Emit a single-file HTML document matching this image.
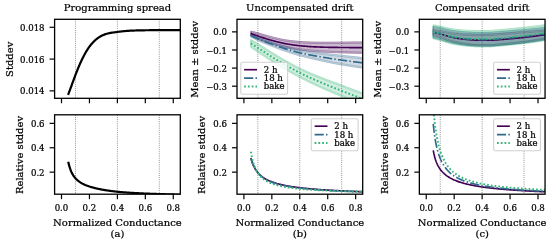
<!DOCTYPE html>
<html><head><meta charset="utf-8"><title>Figure</title>
<style>html,body{margin:0;padding:0;background:#fff;}svg{display:block;}text{stroke:#000;stroke-width:0.24px;stroke-linejoin:round;}</style></head>
<body>
<svg width="550" height="243" viewBox="0 0 550 243" font-family="'DejaVu Serif', 'Liberation Serif', serif" fill="#000">
<rect width="550" height="243" fill="#fff"/>
<defs>
<clipPath id="c00"><rect x="54.6" y="19.3" width="125.7" height="79.0"/></clipPath>
<clipPath id="c01"><rect x="54.6" y="114.8" width="125.7" height="79.39999999999999"/></clipPath>
<clipPath id="c10"><rect x="237.0" y="19.3" width="125.7" height="79.0"/></clipPath>
<clipPath id="c11"><rect x="237.0" y="114.8" width="125.7" height="79.39999999999999"/></clipPath>
<clipPath id="c20"><rect x="419.35" y="19.3" width="125.7" height="79.0"/></clipPath>
<clipPath id="c21"><rect x="419.35" y="114.8" width="125.7" height="79.39999999999999"/></clipPath>
</defs>
<text x="117.45" y="10.7" font-size="10.0" text-anchor="middle">Programming spread</text>
<text x="117.45" y="226.1" font-size="10.0" text-anchor="middle">Normalized Conductance</text>
<text x="117.45" y="236.7" font-size="10.0" text-anchor="middle">(a)</text>
<text transform="translate(12.50,59.30) rotate(-90)" font-size="10.0" text-anchor="middle">Stddev</text>
<text transform="translate(22.90,155.00) rotate(-90)" font-size="10.0" text-anchor="middle">Relative stddev</text>
<text x="299.85" y="10.7" font-size="10.0" text-anchor="middle">Uncompensated drift</text>
<text x="299.85" y="226.1" font-size="10.0" text-anchor="middle">Normalized Conductance</text>
<text x="299.85" y="236.7" font-size="10.0" text-anchor="middle">(b)</text>
<text transform="translate(198.20,59.30) rotate(-90)" font-size="10.0" text-anchor="middle">Mean ± stddev</text>
<text transform="translate(205.30,155.00) rotate(-90)" font-size="10.0" text-anchor="middle">Relative stddev</text>
<text x="482.20" y="10.7" font-size="10.0" text-anchor="middle">Compensated drift</text>
<text x="482.20" y="226.1" font-size="10.0" text-anchor="middle">Normalized Conductance</text>
<text x="482.20" y="236.7" font-size="10.0" text-anchor="middle">(c)</text>
<text transform="translate(380.55,59.30) rotate(-90)" font-size="10.0" text-anchor="middle">Mean ± stddev</text>
<text transform="translate(387.65,155.00) rotate(-90)" font-size="10.0" text-anchor="middle">Relative stddev</text>
<line x1="75.47" y1="19.3" x2="75.47" y2="98.3" stroke="#7a7a7a" stroke-width="0.9" stroke-dasharray="0.9,1.25"/>
<line x1="117.38" y1="19.3" x2="117.38" y2="98.3" stroke="#7a7a7a" stroke-width="0.9" stroke-dasharray="0.9,1.25"/>
<line x1="159.29" y1="19.3" x2="159.29" y2="98.3" stroke="#7a7a7a" stroke-width="0.9" stroke-dasharray="0.9,1.25"/>
<g clip-path="url(#c00)"><path d="M68.48,93.84 L69.18,91.98 L69.88,90.09 L70.58,88.19 L71.28,86.27 L71.98,84.35 L72.68,82.44 L73.37,80.53 L74.07,78.64 L74.77,76.78 L75.47,74.93 L76.17,73.12 L76.87,71.34 L77.57,69.60 L78.26,67.89 L78.96,66.22 L79.66,64.60 L80.36,63.02 L81.06,61.48 L81.76,59.99 L82.45,58.55 L83.15,57.16 L83.85,55.81 L84.55,54.51 L85.25,53.26 L85.95,52.05 L86.65,50.89 L87.34,49.78 L88.04,48.72 L88.74,47.69 L89.44,46.72 L90.14,45.78 L90.84,44.89 L91.54,44.04 L92.23,43.24 L92.93,42.47 L93.63,41.74 L94.33,41.04 L95.03,40.38 L95.73,39.76 L96.42,39.17 L97.12,38.62 L97.82,38.10 L98.52,37.61 L99.22,37.14 L99.92,36.71 L100.62,36.31 L101.31,35.93 L102.01,35.58 L102.71,35.25 L103.41,34.94 L104.11,34.66 L104.81,34.40 L105.51,34.16 L106.20,33.94 L106.90,33.74 L107.60,33.55 L108.30,33.38 L109.00,33.22 L109.70,33.08 L110.39,32.94 L111.09,32.82 L111.79,32.70 L112.49,32.60 L113.19,32.50 L113.89,32.40 L114.59,32.31 L115.28,32.22 L115.98,32.14 L116.68,32.05 L117.38,31.97 L118.08,31.86 L118.78,31.75 L119.48,31.65 L120.17,31.56 L120.87,31.47 L121.57,31.39 L122.27,31.31 L122.97,31.24 L123.67,31.17 L124.36,31.10 L125.06,31.05 L125.76,30.99 L126.46,30.94 L127.16,30.89 L127.86,30.84 L128.56,30.80 L129.25,30.76 L129.95,30.72 L130.65,30.68 L131.35,30.65 L132.05,30.62 L132.75,30.59 L133.45,30.56 L134.14,30.53 L134.84,30.51 L135.54,30.49 L136.24,30.46 L136.94,30.44 L137.64,30.42 L138.33,30.41 L139.03,30.39 L139.73,30.37 L140.43,30.36 L141.13,30.34 L141.83,30.33 L142.53,30.32 L143.22,30.30 L143.92,30.29 L144.62,30.28 L145.32,30.27 L146.02,30.26 L146.72,30.25 L147.42,30.24 L148.11,30.23 L148.81,30.23 L149.51,30.22 L150.21,30.21 L150.91,30.20 L151.61,30.20 L152.30,30.19 L153.00,30.18 L153.70,30.18 L154.40,30.17 L155.10,30.17 L155.80,30.16 L156.50,30.16 L157.19,30.15 L157.89,30.15 L158.59,30.15 L159.29,30.14 L159.99,30.14 L160.69,30.13 L161.39,30.13 L162.08,30.13 L162.78,30.12 L163.48,30.12 L164.18,30.12 L164.88,30.12 L165.58,30.11 L166.27,30.11 L166.97,30.11 L167.67,30.11 L168.37,30.10 L169.07,30.10 L169.77,30.10 L170.47,30.10 L171.16,30.10 L171.86,30.09 L172.56,30.09 L173.26,30.09 L173.96,30.09 L174.66,30.09 L175.36,30.09 L176.05,30.08 L176.75,30.08 L177.45,30.08 L178.15,30.08 L178.85,30.08 L179.55,30.08 L180.25,30.08" fill="none" stroke="#000" stroke-width="2.2" stroke-linecap="square" stroke-linejoin="round"/></g>
<line x1="61.50" y1="98.3" x2="61.50" y2="103.30" stroke="#000" stroke-width="1.2"/>
<line x1="89.44" y1="98.3" x2="89.44" y2="103.30" stroke="#000" stroke-width="1.2"/>
<line x1="117.38" y1="98.3" x2="117.38" y2="103.30" stroke="#000" stroke-width="1.2"/>
<line x1="145.32" y1="98.3" x2="145.32" y2="103.30" stroke="#000" stroke-width="1.2"/>
<line x1="173.26" y1="98.3" x2="173.26" y2="103.30" stroke="#000" stroke-width="1.2"/>
<line x1="49.60" y1="90.86" x2="54.6" y2="90.86" stroke="#000" stroke-width="1.2"/>
<text x="44.60" y="94.46" font-size="8.6" text-anchor="end">0.014</text>
<line x1="49.60" y1="59.08" x2="54.6" y2="59.08" stroke="#000" stroke-width="1.2"/>
<text x="44.60" y="62.68" font-size="8.6" text-anchor="end">0.016</text>
<line x1="49.60" y1="27.30" x2="54.6" y2="27.30" stroke="#000" stroke-width="1.2"/>
<text x="44.60" y="30.90" font-size="8.6" text-anchor="end">0.018</text>
<rect x="54.6" y="19.3" width="125.7" height="79.0" fill="none" stroke="#000" stroke-width="1.3"/>
<line x1="75.47" y1="114.8" x2="75.47" y2="194.2" stroke="#7a7a7a" stroke-width="0.9" stroke-dasharray="0.9,1.25"/>
<line x1="117.38" y1="114.8" x2="117.38" y2="194.2" stroke="#7a7a7a" stroke-width="0.9" stroke-dasharray="0.9,1.25"/>
<line x1="159.29" y1="114.8" x2="159.29" y2="194.2" stroke="#7a7a7a" stroke-width="0.9" stroke-dasharray="0.9,1.25"/>
<g clip-path="url(#c01)"><path d="M68.48,162.85 L69.18,165.65 L69.88,167.99 L70.58,169.96 L71.28,171.65 L71.98,173.11 L72.68,174.39 L73.37,175.52 L74.07,176.53 L74.77,177.43 L75.47,178.25 L76.17,179.00 L76.87,179.68 L77.57,180.31 L78.26,180.89 L78.96,181.42 L79.66,181.92 L80.36,182.39 L81.06,182.82 L81.76,183.23 L82.45,183.61 L83.15,183.97 L83.85,184.32 L84.55,184.64 L85.25,184.95 L85.95,185.24 L86.65,185.52 L87.34,185.79 L88.04,186.04 L88.74,186.28 L89.44,186.52 L90.14,186.74 L90.84,186.96 L91.54,187.17 L92.23,187.37 L92.93,187.56 L93.63,187.75 L94.33,187.93 L95.03,188.10 L95.73,188.27 L96.42,188.44 L97.12,188.59 L97.82,188.75 L98.52,188.90 L99.22,189.04 L99.92,189.18 L100.62,189.32 L101.31,189.45 L102.01,189.58 L102.71,189.71 L103.41,189.83 L104.11,189.95 L104.81,190.07 L105.51,190.18 L106.20,190.29 L106.90,190.40 L107.60,190.51 L108.30,190.61 L109.00,190.71 L109.70,190.81 L110.39,190.91 L111.09,191.00 L111.79,191.09 L112.49,191.18 L113.19,191.27 L113.89,191.36 L114.59,191.44 L115.28,191.52 L115.98,191.60 L116.68,191.68 L117.38,191.76 L118.08,191.82 L118.78,191.89 L119.48,191.95 L120.17,192.01 L120.87,192.07 L121.57,192.13 L122.27,192.18 L122.97,192.24 L123.67,192.29 L124.36,192.34 L125.06,192.40 L125.76,192.45 L126.46,192.50 L127.16,192.55 L127.86,192.59 L128.56,192.64 L129.25,192.69 L129.95,192.73 L130.65,192.78 L131.35,192.82 L132.05,192.86 L132.75,192.90 L133.45,192.94 L134.14,192.98 L134.84,193.02 L135.54,193.06 L136.24,193.10 L136.94,193.14 L137.64,193.17 L138.33,193.21 L139.03,193.25 L139.73,193.28 L140.43,193.31 L141.13,193.35 L141.83,193.38 L142.53,193.41 L143.22,193.45 L143.92,193.48 L144.62,193.51 L145.32,193.54 L146.02,193.57 L146.72,193.60 L147.42,193.63 L148.11,193.65 L148.81,193.68 L149.51,193.71 L150.21,193.74 L150.91,193.76 L151.61,193.79 L152.30,193.82 L153.00,193.84 L153.70,193.87 L154.40,193.89 L155.10,193.92 L155.80,193.94 L156.50,193.96 L157.19,193.99 L157.89,194.01 L158.59,194.03 L159.29,194.05 L159.99,194.08 L160.69,194.10 L161.39,194.12 L162.08,194.14 L162.78,194.16 L163.48,194.18 L164.18,194.20 L164.88,194.22 L165.58,194.24 L166.27,194.26 L166.97,194.28 L167.67,194.30 L168.37,194.32 L169.07,194.34 L169.77,194.35 L170.47,194.37 L171.16,194.39 L171.86,194.41 L172.56,194.42 L173.26,194.44 L173.96,194.46 L174.66,194.48 L175.36,194.49 L176.05,194.51 L176.75,194.52 L177.45,194.54 L178.15,194.56 L178.85,194.57 L179.55,194.59 L180.25,194.60" fill="none" stroke="#000" stroke-width="2.2" stroke-linecap="square" stroke-linejoin="round"/></g>
<line x1="61.50" y1="194.2" x2="61.50" y2="199.20" stroke="#000" stroke-width="1.2"/>
<text x="61.50" y="211.40" font-size="8.6" text-anchor="middle">0.0</text>
<line x1="89.44" y1="194.2" x2="89.44" y2="199.20" stroke="#000" stroke-width="1.2"/>
<text x="89.44" y="211.40" font-size="8.6" text-anchor="middle">0.2</text>
<line x1="117.38" y1="194.2" x2="117.38" y2="199.20" stroke="#000" stroke-width="1.2"/>
<text x="117.38" y="211.40" font-size="8.6" text-anchor="middle">0.4</text>
<line x1="145.32" y1="194.2" x2="145.32" y2="199.20" stroke="#000" stroke-width="1.2"/>
<text x="145.32" y="211.40" font-size="8.6" text-anchor="middle">0.6</text>
<line x1="173.26" y1="194.2" x2="173.26" y2="199.20" stroke="#000" stroke-width="1.2"/>
<text x="173.26" y="211.40" font-size="8.6" text-anchor="middle">0.8</text>
<line x1="49.60" y1="172.15" x2="54.6" y2="172.15" stroke="#000" stroke-width="1.2"/>
<text x="44.60" y="175.75" font-size="8.6" text-anchor="end">0.2</text>
<line x1="49.60" y1="147.75" x2="54.6" y2="147.75" stroke="#000" stroke-width="1.2"/>
<text x="44.60" y="151.35" font-size="8.6" text-anchor="end">0.4</text>
<line x1="49.60" y1="123.35" x2="54.6" y2="123.35" stroke="#000" stroke-width="1.2"/>
<text x="44.60" y="126.95" font-size="8.6" text-anchor="end">0.6</text>
<rect x="54.6" y="114.8" width="125.7" height="79.39999999999999" fill="none" stroke="#000" stroke-width="1.3"/>
<line x1="257.87" y1="19.3" x2="257.87" y2="98.3" stroke="#7a7a7a" stroke-width="0.9" stroke-dasharray="0.9,1.25"/>
<line x1="299.78" y1="19.3" x2="299.78" y2="98.3" stroke="#7a7a7a" stroke-width="0.9" stroke-dasharray="0.9,1.25"/>
<line x1="341.69" y1="19.3" x2="341.69" y2="98.3" stroke="#7a7a7a" stroke-width="0.9" stroke-dasharray="0.9,1.25"/>
<g clip-path="url(#c10)">
<path d="M250.19,30.71 L251.58,30.88 L252.28,31.04 L252.98,31.20 L253.68,31.36 L254.38,31.52 L255.08,31.69 L255.77,31.86 L256.47,32.03 L257.17,32.22 L257.87,32.41 L258.57,32.61 L259.27,32.82 L259.97,33.02 L260.66,33.23 L261.36,33.43 L262.06,33.64 L262.76,33.84 L263.46,34.05 L264.16,34.26 L264.86,34.46 L265.55,34.66 L266.25,34.86 L266.95,35.06 L267.65,35.26 L268.35,35.46 L269.05,35.65 L269.74,35.84 L270.44,36.03 L271.14,36.21 L271.84,36.39 L272.54,36.57 L273.24,36.74 L273.94,36.92 L274.63,37.10 L275.33,37.27 L276.03,37.44 L276.73,37.62 L277.43,37.78 L278.13,37.95 L278.82,38.11 L279.52,38.27 L280.22,38.43 L280.92,38.58 L281.62,38.72 L282.32,38.86 L283.02,39.00 L283.71,39.13 L284.41,39.25 L285.11,39.37 L285.81,39.48 L286.51,39.58 L287.21,39.68 L287.91,39.78 L288.60,39.87 L289.30,39.97 L290.00,40.06 L290.70,40.14 L291.40,40.23 L292.10,40.31 L292.79,40.38 L293.49,40.46 L294.19,40.53 L294.89,40.60 L295.59,40.67 L296.29,40.73 L296.99,40.79 L297.68,40.85 L298.38,40.91 L299.08,40.96 L299.78,41.02 L300.48,41.07 L301.18,41.11 L301.88,41.16 L302.57,41.21 L303.27,41.25 L303.97,41.30 L304.67,41.34 L305.37,41.38 L306.07,41.42 L306.76,41.46 L307.46,41.49 L308.16,41.53 L308.86,41.56 L309.56,41.59 L310.26,41.62 L310.96,41.64 L311.65,41.66 L312.35,41.69 L313.05,41.70 L313.75,41.72 L314.45,41.74 L315.15,41.75 L315.85,41.76 L316.54,41.78 L317.24,41.79 L317.94,41.80 L318.64,41.81 L319.34,41.82 L320.04,41.83 L320.74,41.83 L321.43,41.84 L322.13,41.85 L322.83,41.85 L323.53,41.85 L324.23,41.86 L324.93,41.86 L325.62,41.86 L326.32,41.86 L327.02,41.86 L327.72,41.85 L328.42,41.85 L329.12,41.84 L329.82,41.84 L330.51,41.83 L331.21,41.83 L331.91,41.82 L332.61,41.81 L333.31,41.81 L334.01,41.80 L334.70,41.79 L335.40,41.79 L336.10,41.78 L336.80,41.77 L337.50,41.76 L338.20,41.75 L338.90,41.74 L339.59,41.74 L340.29,41.73 L340.99,41.72 L341.69,41.71 L342.39,41.70 L343.09,41.70 L343.79,41.69 L344.48,41.68 L345.18,41.67 L345.88,41.67 L346.58,41.66 L347.28,41.65 L347.98,41.64 L348.67,41.63 L349.37,41.63 L350.07,41.62 L350.77,41.61 L351.47,41.60 L352.17,41.60 L352.87,41.59 L353.56,41.58 L354.26,41.58 L354.96,41.57 L355.66,41.56 L356.36,41.55 L357.06,41.55 L357.76,41.54 L358.45,41.53 L359.15,41.52 L359.85,41.52 L360.55,41.51 L361.25,41.50 L361.95,41.49 L362.64,41.49 L362.64,53.80 L361.95,53.79 L361.25,53.77 L360.55,53.76 L359.85,53.74 L359.15,53.73 L358.45,53.71 L357.76,53.69 L357.06,53.68 L356.36,53.66 L355.66,53.64 L354.96,53.63 L354.26,53.61 L353.56,53.59 L352.87,53.57 L352.17,53.55 L351.47,53.54 L350.77,53.52 L350.07,53.50 L349.37,53.48 L348.67,53.46 L347.98,53.44 L347.28,53.42 L346.58,53.40 L345.88,53.38 L345.18,53.36 L344.48,53.34 L343.79,53.31 L343.09,53.29 L342.39,53.27 L341.69,53.25 L340.99,53.23 L340.29,53.21 L339.59,53.18 L338.90,53.16 L338.20,53.14 L337.50,53.11 L336.80,53.09 L336.10,53.07 L335.40,53.04 L334.70,53.02 L334.01,52.99 L333.31,52.97 L332.61,52.94 L331.91,52.92 L331.21,52.89 L330.51,52.86 L329.82,52.84 L329.12,52.81 L328.42,52.78 L327.72,52.75 L327.02,52.72 L326.32,52.68 L325.62,52.65 L324.93,52.62 L324.23,52.58 L323.53,52.54 L322.83,52.50 L322.13,52.46 L321.43,52.42 L320.74,52.38 L320.04,52.34 L319.34,52.29 L318.64,52.25 L317.94,52.20 L317.24,52.15 L316.54,52.10 L315.85,52.05 L315.15,52.00 L314.45,51.95 L313.75,51.90 L313.05,51.85 L312.35,51.79 L311.65,51.73 L310.96,51.67 L310.26,51.61 L309.56,51.54 L308.86,51.48 L308.16,51.41 L307.46,51.33 L306.76,51.26 L306.07,51.19 L305.37,51.11 L304.67,51.03 L303.97,50.95 L303.27,50.87 L302.57,50.78 L301.88,50.70 L301.18,50.61 L300.48,50.52 L299.78,50.43 L299.08,50.34 L298.38,50.24 L297.68,50.14 L296.99,50.04 L296.29,49.93 L295.59,49.82 L294.89,49.71 L294.19,49.59 L293.49,49.47 L292.79,49.35 L292.10,49.22 L291.40,49.09 L290.70,48.96 L290.00,48.83 L289.30,48.69 L288.60,48.55 L287.91,48.41 L287.21,48.27 L286.51,48.13 L285.81,47.99 L285.11,47.84 L284.41,47.69 L283.71,47.53 L283.02,47.37 L282.32,47.21 L281.62,47.04 L280.92,46.86 L280.22,46.69 L279.52,46.51 L278.82,46.32 L278.13,46.14 L277.43,45.95 L276.73,45.76 L276.03,45.56 L275.33,45.37 L274.63,45.17 L273.94,44.97 L273.24,44.78 L272.54,44.58 L271.84,44.37 L271.14,44.17 L270.44,43.96 L269.74,43.75 L269.05,43.54 L268.35,43.32 L267.65,43.09 L266.95,42.87 L266.25,42.64 L265.55,42.40 L264.86,42.17 L264.16,41.93 L263.46,41.68 L262.76,41.44 L262.06,41.19 L261.36,40.94 L260.66,40.69 L259.97,40.43 L259.27,40.18 L258.57,39.92 L257.87,39.66 L257.17,39.39 L256.47,39.10 L255.77,38.80 L255.08,38.49 L254.38,38.17 L253.68,37.85 L252.98,37.51 L252.28,37.18 L251.58,36.84 L250.19,36.51Z" fill="#440154" fill-opacity="0.22"/>
<path d="M250.88,31.07 L251.58,31.24 L252.28,31.40 L252.98,31.56 L253.68,31.72 L254.38,31.88 L255.08,32.05 L255.77,32.22 L256.47,32.39 L257.17,32.58 L257.87,32.78 L258.57,32.98 L259.27,33.18 L259.97,33.38 L260.66,33.59 L261.36,33.80 L262.06,34.00 L262.76,34.21 L263.46,34.41 L264.16,34.62 L264.86,34.82 L265.55,35.02 L266.25,35.23 L266.95,35.43 L267.65,35.62 L268.35,35.82 L269.05,36.01 L269.74,36.20 L270.44,36.39 L271.14,36.57 L271.84,36.75 L272.54,36.93 L273.24,37.11 L273.94,37.28 L274.63,37.46 L275.33,37.63 L276.03,37.81 L276.73,37.98 L277.43,38.15 L278.13,38.31 L278.82,38.47 L279.52,38.63 L280.22,38.79 L280.92,38.94 L281.62,39.08 L282.32,39.22 L283.02,39.36 L283.71,39.49 L284.41,39.61 L285.11,39.73 L285.81,39.84 L286.51,39.94 L287.21,40.04 L287.91,40.14 L288.60,40.24 L289.30,40.33 L290.00,40.42 L290.70,40.50 L291.40,40.59 L292.10,40.67 L292.79,40.75 L293.49,40.82 L294.19,40.89 L294.89,40.96 L295.59,41.03 L296.29,41.09 L296.99,41.16 L297.68,41.21 L298.38,41.27 L299.08,41.33 L299.78,41.38 L300.48,41.43 L301.18,41.48 L301.88,41.52 L302.57,41.57 L303.27,41.62 L303.97,41.66 L304.67,41.70 L305.37,41.74 L306.07,41.78 L306.76,41.82 L307.46,41.85 L308.16,41.89 L308.86,41.92 L309.56,41.95 L310.26,41.98 L310.96,42.00 L311.65,42.03 L312.35,42.05 L313.05,42.07 L313.75,42.08 L314.45,42.10 L315.15,42.11 L315.85,42.12 L316.54,42.14 L317.24,42.15 L317.94,42.16 L318.64,42.17 L319.34,42.18 L320.04,42.19 L320.74,42.20 L321.43,42.20 L322.13,42.21 L322.83,42.21 L323.53,42.22 L324.23,42.22 L324.93,42.22 L325.62,42.22 L326.32,42.22 L327.02,42.22 L327.72,42.21 L328.42,42.21 L329.12,42.21 L329.82,42.20 L330.51,42.20 L331.21,42.19 L331.91,42.18 L332.61,42.18 L333.31,42.17 L334.01,42.16 L334.70,42.15 L335.40,42.15 L336.10,42.14 L336.80,42.13 L337.50,42.12 L338.20,42.12 L338.90,42.11 L339.59,42.10 L340.29,42.09 L340.99,42.08 L341.69,42.07 L342.39,42.07 L343.09,42.06 L343.79,42.05 L344.48,42.04 L345.18,42.03 L345.88,42.03 L346.58,42.02 L347.28,42.01 L347.98,42.00 L348.67,42.00 L349.37,41.99 L350.07,41.98 L350.77,41.97 L351.47,41.97 L352.17,41.96 L352.87,41.95 L353.56,41.94 L354.26,41.94 L354.96,41.93 L355.66,41.92 L356.36,41.92 L357.06,41.91 L357.76,41.90 L358.45,41.89 L359.15,41.89 L359.85,41.88 L360.55,41.87 L361.25,41.86 L361.95,41.86 L362.64,41.85 L362.64,53.44 L361.95,53.42 L361.25,53.41 L360.55,53.40 L359.85,53.38 L359.15,53.36 L358.45,53.35 L357.76,53.33 L357.06,53.32 L356.36,53.30 L355.66,53.28 L354.96,53.26 L354.26,53.25 L353.56,53.23 L352.87,53.21 L352.17,53.19 L351.47,53.17 L350.77,53.15 L350.07,53.14 L349.37,53.12 L348.67,53.10 L347.98,53.08 L347.28,53.06 L346.58,53.04 L345.88,53.02 L345.18,52.99 L344.48,52.97 L343.79,52.95 L343.09,52.93 L342.39,52.91 L341.69,52.89 L340.99,52.87 L340.29,52.84 L339.59,52.82 L338.90,52.80 L338.20,52.78 L337.50,52.75 L336.80,52.73 L336.10,52.71 L335.40,52.68 L334.70,52.66 L334.01,52.63 L333.31,52.61 L332.61,52.58 L331.91,52.55 L331.21,52.53 L330.51,52.50 L329.82,52.47 L329.12,52.44 L328.42,52.41 L327.72,52.39 L327.02,52.35 L326.32,52.32 L325.62,52.29 L324.93,52.25 L324.23,52.22 L323.53,52.18 L322.83,52.14 L322.13,52.10 L321.43,52.06 L320.74,52.02 L320.04,51.97 L319.34,51.93 L318.64,51.88 L317.94,51.84 L317.24,51.79 L316.54,51.74 L315.85,51.69 L315.15,51.64 L314.45,51.59 L313.75,51.54 L313.05,51.49 L312.35,51.43 L311.65,51.37 L310.96,51.31 L310.26,51.25 L309.56,51.18 L308.86,51.11 L308.16,51.04 L307.46,50.97 L306.76,50.90 L306.07,50.82 L305.37,50.75 L304.67,50.67 L303.97,50.59 L303.27,50.50 L302.57,50.42 L301.88,50.33 L301.18,50.25 L300.48,50.16 L299.78,50.07 L299.08,49.98 L298.38,49.88 L297.68,49.78 L296.99,49.68 L296.29,49.57 L295.59,49.46 L294.89,49.35 L294.19,49.23 L293.49,49.11 L292.79,48.98 L292.10,48.86 L291.40,48.73 L290.70,48.60 L290.00,48.46 L289.30,48.33 L288.60,48.19 L287.91,48.05 L287.21,47.91 L286.51,47.77 L285.81,47.63 L285.11,47.48 L284.41,47.33 L283.71,47.17 L283.02,47.01 L282.32,46.84 L281.62,46.68 L280.92,46.50 L280.22,46.32 L279.52,46.14 L278.82,45.96 L278.13,45.77 L277.43,45.59 L276.73,45.40 L276.03,45.20 L275.33,45.01 L274.63,44.81 L273.94,44.61 L273.24,44.41 L272.54,44.21 L271.84,44.01 L271.14,43.81 L270.44,43.60 L269.74,43.39 L269.05,43.17 L268.35,42.96 L267.65,42.73 L266.95,42.50 L266.25,42.27 L265.55,42.04 L264.86,41.80 L264.16,41.56 L263.46,41.32 L262.76,41.08 L262.06,40.83 L261.36,40.58 L260.66,40.32 L259.97,40.07 L259.27,39.81 L258.57,39.55 L257.87,39.30 L257.17,39.03 L256.47,38.74 L255.77,38.44 L255.08,38.13 L254.38,37.81 L253.68,37.49 L252.98,37.15 L252.28,36.82 L251.58,36.48 L250.88,36.14Z" fill="#440154" fill-opacity="0.03" stroke="#440154" stroke-opacity="0.55" stroke-width="0.6"/>
<path d="M250.88,32.43 L251.58,32.60 L252.28,32.76 L252.98,32.92 L253.68,33.08 L254.38,33.24 L255.08,33.41 L255.77,33.58 L256.47,33.75 L257.17,33.94 L257.87,34.13 L258.57,34.34 L259.27,34.54 L259.97,34.74 L260.66,34.95 L261.36,35.15 L262.06,35.36 L262.76,35.57 L263.46,35.77 L264.16,35.98 L264.86,36.18 L265.55,36.38 L266.25,36.58 L266.95,36.78 L267.65,36.98 L268.35,37.18 L269.05,37.37 L269.74,37.56 L270.44,37.75 L271.14,37.93 L271.84,38.11 L272.54,38.29 L273.24,38.46 L273.94,38.64 L274.63,38.82 L275.33,38.99 L276.03,39.16 L276.73,39.34 L277.43,39.50 L278.13,39.67 L278.82,39.83 L279.52,39.99 L280.22,40.15 L280.92,40.30 L281.62,40.44 L282.32,40.58 L283.02,40.72 L283.71,40.85 L284.41,40.97 L285.11,41.09 L285.81,41.20 L286.51,41.30 L287.21,41.40 L287.91,41.50 L288.60,41.60 L289.30,41.69 L290.00,41.78 L290.70,41.86 L291.40,41.95 L292.10,42.03 L292.79,42.10 L293.49,42.18 L294.19,42.25 L294.89,42.32 L295.59,42.39 L296.29,42.45 L296.99,42.51 L297.68,42.57 L298.38,42.63 L299.08,42.68 L299.78,42.74 L300.48,42.79 L301.18,42.84 L301.88,42.88 L302.57,42.93 L303.27,42.97 L303.97,43.02 L304.67,43.06 L305.37,43.10 L306.07,43.14 L306.76,43.18 L307.46,43.21 L308.16,43.25 L308.86,43.28 L309.56,43.31 L310.26,43.34 L310.96,43.36 L311.65,43.38 L312.35,43.41 L313.05,43.42 L313.75,43.44 L314.45,43.46 L315.15,43.47 L315.85,43.48 L316.54,43.50 L317.24,43.51 L317.94,43.52 L318.64,43.53 L319.34,43.54 L320.04,43.55 L320.74,43.55 L321.43,43.56 L322.13,43.57 L322.83,43.57 L323.53,43.57 L324.23,43.58 L324.93,43.58 L325.62,43.58 L326.32,43.58 L327.02,43.58 L327.72,43.57 L328.42,43.57 L329.12,43.56 L329.82,43.56 L330.51,43.55 L331.21,43.55 L331.91,43.54 L332.61,43.53 L333.31,43.53 L334.01,43.52 L334.70,43.51 L335.40,43.51 L336.10,43.50 L336.80,43.49 L337.50,43.48 L338.20,43.47 L338.90,43.47 L339.59,43.46 L340.29,43.45 L340.99,43.44 L341.69,43.43 L342.39,43.42 L343.09,43.42 L343.79,43.41 L344.48,43.40 L345.18,43.39 L345.88,43.39 L346.58,43.38 L347.28,43.37 L347.98,43.36 L348.67,43.35 L349.37,43.35 L350.07,43.34 L350.77,43.33 L351.47,43.33 L352.17,43.32 L352.87,43.31 L353.56,43.30 L354.26,43.30 L354.96,43.29 L355.66,43.28 L356.36,43.27 L357.06,43.27 L357.76,43.26 L358.45,43.25 L359.15,43.24 L359.85,43.24 L360.55,43.23 L361.25,43.22 L361.95,43.21 L362.64,43.21 L362.64,52.08 L361.95,52.07 L361.25,52.05 L360.55,52.04 L359.85,52.02 L359.15,52.01 L358.45,51.99 L357.76,51.97 L357.06,51.96 L356.36,51.94 L355.66,51.92 L354.96,51.91 L354.26,51.89 L353.56,51.87 L352.87,51.85 L352.17,51.83 L351.47,51.82 L350.77,51.80 L350.07,51.78 L349.37,51.76 L348.67,51.74 L347.98,51.72 L347.28,51.70 L346.58,51.68 L345.88,51.66 L345.18,51.64 L344.48,51.61 L343.79,51.59 L343.09,51.57 L342.39,51.55 L341.69,51.53 L340.99,51.51 L340.29,51.48 L339.59,51.46 L338.90,51.44 L338.20,51.42 L337.50,51.39 L336.80,51.37 L336.10,51.35 L335.40,51.32 L334.70,51.30 L334.01,51.27 L333.31,51.25 L332.61,51.22 L331.91,51.20 L331.21,51.17 L330.51,51.14 L329.82,51.11 L329.12,51.09 L328.42,51.06 L327.72,51.03 L327.02,51.00 L326.32,50.96 L325.62,50.93 L324.93,50.89 L324.23,50.86 L323.53,50.82 L322.83,50.78 L322.13,50.74 L321.43,50.70 L320.74,50.66 L320.04,50.62 L319.34,50.57 L318.64,50.53 L317.94,50.48 L317.24,50.43 L316.54,50.38 L315.85,50.33 L315.15,50.28 L314.45,50.23 L313.75,50.18 L313.05,50.13 L312.35,50.07 L311.65,50.01 L310.96,49.95 L310.26,49.89 L309.56,49.82 L308.86,49.76 L308.16,49.69 L307.46,49.61 L306.76,49.54 L306.07,49.46 L305.37,49.39 L304.67,49.31 L303.97,49.23 L303.27,49.15 L302.57,49.06 L301.88,48.98 L301.18,48.89 L300.48,48.80 L299.78,48.71 L299.08,48.62 L298.38,48.52 L297.68,48.42 L296.99,48.32 L296.29,48.21 L295.59,48.10 L294.89,47.99 L294.19,47.87 L293.49,47.75 L292.79,47.63 L292.10,47.50 L291.40,47.37 L290.70,47.24 L290.00,47.11 L289.30,46.97 L288.60,46.83 L287.91,46.69 L287.21,46.55 L286.51,46.41 L285.81,46.27 L285.11,46.12 L284.41,45.97 L283.71,45.81 L283.02,45.65 L282.32,45.49 L281.62,45.32 L280.92,45.14 L280.22,44.97 L279.52,44.79 L278.82,44.60 L278.13,44.42 L277.43,44.23 L276.73,44.04 L276.03,43.84 L275.33,43.65 L274.63,43.45 L273.94,43.25 L273.24,43.05 L272.54,42.85 L271.84,42.65 L271.14,42.45 L270.44,42.24 L269.74,42.03 L269.05,41.82 L268.35,41.60 L267.65,41.37 L266.95,41.15 L266.25,40.92 L265.55,40.68 L264.86,40.45 L264.16,40.21 L263.46,39.96 L262.76,39.72 L262.06,39.47 L261.36,39.22 L260.66,38.97 L259.97,38.71 L259.27,38.45 L258.57,38.20 L257.87,37.94 L257.17,37.67 L256.47,37.38 L255.77,37.08 L255.08,36.77 L254.38,36.45 L253.68,36.13 L252.98,35.79 L252.28,35.46 L251.58,35.12 L250.88,34.79Z" fill="#440154" fill-opacity="0.03" stroke="#440154" stroke-opacity="0.55" stroke-width="0.6"/>
<path d="M250.19,33.14 L251.58,33.49 L252.28,33.85 L252.98,34.20 L253.68,34.54 L254.38,34.88 L255.08,35.21 L255.77,35.54 L256.47,35.86 L257.17,36.17 L257.87,36.47 L258.57,36.76 L259.27,37.05 L259.97,37.33 L260.66,37.60 L261.36,37.88 L262.06,38.15 L262.76,38.41 L263.46,38.67 L264.16,38.93 L264.86,39.18 L265.55,39.43 L266.25,39.68 L266.95,39.93 L267.65,40.17 L268.35,40.41 L269.05,40.65 L269.74,40.89 L270.44,41.13 L271.14,41.37 L271.84,41.60 L272.54,41.84 L273.24,42.07 L273.94,42.30 L274.63,42.53 L275.33,42.76 L276.03,42.99 L276.73,43.21 L277.43,43.43 L278.13,43.65 L278.82,43.87 L279.52,44.09 L280.22,44.30 L280.92,44.52 L281.62,44.73 L282.32,44.94 L283.02,45.14 L283.71,45.34 L284.41,45.54 L285.11,45.74 L285.81,45.94 L286.51,46.13 L287.21,46.32 L287.91,46.51 L288.60,46.70 L289.30,46.89 L290.00,47.08 L290.70,47.27 L291.40,47.45 L292.10,47.63 L292.79,47.81 L293.49,47.99 L294.19,48.16 L294.89,48.33 L295.59,48.50 L296.29,48.66 L296.99,48.82 L297.68,48.98 L298.38,49.13 L299.08,49.28 L299.78,49.42 L300.48,49.56 L301.18,49.69 L301.88,49.82 L302.57,49.95 L303.27,50.07 L303.97,50.20 L304.67,50.32 L305.37,50.43 L306.07,50.54 L306.76,50.66 L307.46,50.76 L308.16,50.87 L308.86,50.98 L309.56,51.08 L310.26,51.18 L310.96,51.28 L311.65,51.37 L312.35,51.47 L313.05,51.56 L313.75,51.65 L314.45,51.74 L315.15,51.83 L315.85,51.92 L316.54,52.01 L317.24,52.10 L317.94,52.18 L318.64,52.27 L319.34,52.35 L320.04,52.44 L320.74,52.52 L321.43,52.60 L322.13,52.69 L322.83,52.77 L323.53,52.85 L324.23,52.93 L324.93,53.01 L325.62,53.09 L326.32,53.17 L327.02,53.24 L327.72,53.32 L328.42,53.40 L329.12,53.47 L329.82,53.55 L330.51,53.63 L331.21,53.70 L331.91,53.78 L332.61,53.85 L333.31,53.93 L334.01,54.00 L334.70,54.08 L335.40,54.16 L336.10,54.23 L336.80,54.31 L337.50,54.38 L338.20,54.46 L338.90,54.54 L339.59,54.62 L340.29,54.69 L340.99,54.77 L341.69,54.85 L342.39,54.93 L343.09,55.01 L343.79,55.09 L344.48,55.17 L345.18,55.25 L345.88,55.33 L346.58,55.40 L347.28,55.48 L347.98,55.56 L348.67,55.64 L349.37,55.72 L350.07,55.79 L350.77,55.87 L351.47,55.95 L352.17,56.02 L352.87,56.10 L353.56,56.18 L354.26,56.25 L354.96,56.33 L355.66,56.40 L356.36,56.48 L357.06,56.56 L357.76,56.63 L358.45,56.71 L359.15,56.78 L359.85,56.85 L360.55,56.93 L361.25,57.00 L361.95,57.08 L362.64,57.15 L362.64,68.56 L361.95,68.47 L361.25,68.37 L360.55,68.28 L359.85,68.18 L359.15,68.08 L358.45,67.98 L357.76,67.88 L357.06,67.78 L356.36,67.68 L355.66,67.58 L354.96,67.48 L354.26,67.37 L353.56,67.27 L352.87,67.16 L352.17,67.05 L351.47,66.95 L350.77,66.84 L350.07,66.73 L349.37,66.62 L348.67,66.51 L347.98,66.40 L347.28,66.28 L346.58,66.17 L345.88,66.06 L345.18,65.94 L344.48,65.82 L343.79,65.71 L343.09,65.59 L342.39,65.47 L341.69,65.36 L340.99,65.24 L340.29,65.11 L339.59,64.99 L338.90,64.87 L338.20,64.74 L337.50,64.62 L336.80,64.49 L336.10,64.36 L335.40,64.23 L334.70,64.10 L334.01,63.96 L333.31,63.83 L332.61,63.69 L331.91,63.56 L331.21,63.42 L330.51,63.28 L329.82,63.14 L329.12,63.00 L328.42,62.85 L327.72,62.71 L327.02,62.56 L326.32,62.42 L325.62,62.27 L324.93,62.12 L324.23,61.97 L323.53,61.82 L322.83,61.67 L322.13,61.51 L321.43,61.36 L320.74,61.20 L320.04,61.05 L319.34,60.89 L318.64,60.73 L317.94,60.57 L317.24,60.42 L316.54,60.26 L315.85,60.10 L315.15,59.94 L314.45,59.78 L313.75,59.62 L313.05,59.46 L312.35,59.29 L311.65,59.13 L310.96,58.97 L310.26,58.80 L309.56,58.64 L308.86,58.47 L308.16,58.30 L307.46,58.13 L306.76,57.96 L306.07,57.79 L305.37,57.62 L304.67,57.45 L303.97,57.27 L303.27,57.09 L302.57,56.92 L301.88,56.74 L301.18,56.56 L300.48,56.38 L299.78,56.19 L299.08,56.01 L298.38,55.81 L297.68,55.62 L296.99,55.42 L296.29,55.21 L295.59,55.01 L294.89,54.80 L294.19,54.58 L293.49,54.37 L292.79,54.15 L292.10,53.92 L291.40,53.70 L290.70,53.47 L290.00,53.24 L289.30,53.01 L288.60,52.78 L287.91,52.55 L287.21,52.32 L286.51,52.08 L285.81,51.85 L285.11,51.62 L284.41,51.38 L283.71,51.14 L283.02,50.90 L282.32,50.65 L281.62,50.40 L280.92,50.16 L280.22,49.91 L279.52,49.65 L278.82,49.40 L278.13,49.14 L277.43,48.88 L276.73,48.62 L276.03,48.36 L275.33,48.10 L274.63,47.84 L273.94,47.57 L273.24,47.30 L272.54,47.04 L271.84,46.77 L271.14,46.50 L270.44,46.23 L269.74,45.96 L269.05,45.69 L268.35,45.42 L267.65,45.14 L266.95,44.87 L266.25,44.59 L265.55,44.31 L264.86,44.03 L264.16,43.75 L263.46,43.46 L262.76,43.17 L262.06,42.88 L261.36,42.58 L260.66,42.28 L259.97,41.98 L259.27,41.67 L258.57,41.36 L257.87,41.04 L257.17,40.71 L256.47,40.38 L255.77,40.04 L255.08,39.69 L254.38,39.33 L253.68,38.97 L252.98,38.61 L252.28,38.24 L251.58,37.86 L250.19,37.48Z" fill="#31688e" fill-opacity="0.18"/>
<path d="M250.88,33.50 L251.58,33.86 L252.28,34.21 L252.98,34.56 L253.68,34.90 L254.38,35.24 L255.08,35.58 L255.77,35.90 L256.47,36.22 L257.17,36.53 L257.87,36.83 L258.57,37.12 L259.27,37.41 L259.97,37.69 L260.66,37.97 L261.36,38.24 L262.06,38.51 L262.76,38.77 L263.46,39.03 L264.16,39.29 L264.86,39.55 L265.55,39.80 L266.25,40.04 L266.95,40.29 L267.65,40.53 L268.35,40.78 L269.05,41.02 L269.74,41.25 L270.44,41.49 L271.14,41.73 L271.84,41.96 L272.54,42.20 L273.24,42.43 L273.94,42.66 L274.63,42.89 L275.33,43.12 L276.03,43.35 L276.73,43.57 L277.43,43.80 L278.13,44.02 L278.82,44.24 L279.52,44.45 L280.22,44.67 L280.92,44.88 L281.62,45.09 L282.32,45.30 L283.02,45.50 L283.71,45.71 L284.41,45.91 L285.11,46.10 L285.81,46.30 L286.51,46.49 L287.21,46.68 L287.91,46.88 L288.60,47.07 L289.30,47.26 L290.00,47.44 L290.70,47.63 L291.40,47.81 L292.10,47.99 L292.79,48.17 L293.49,48.35 L294.19,48.52 L294.89,48.70 L295.59,48.86 L296.29,49.03 L296.99,49.19 L297.68,49.34 L298.38,49.49 L299.08,49.64 L299.78,49.78 L300.48,49.92 L301.18,50.05 L301.88,50.18 L302.57,50.31 L303.27,50.44 L303.97,50.56 L304.67,50.68 L305.37,50.79 L306.07,50.91 L306.76,51.02 L307.46,51.13 L308.16,51.23 L308.86,51.34 L309.56,51.44 L310.26,51.54 L310.96,51.64 L311.65,51.74 L312.35,51.83 L313.05,51.92 L313.75,52.02 L314.45,52.11 L315.15,52.20 L315.85,52.28 L316.54,52.37 L317.24,52.46 L317.94,52.54 L318.64,52.63 L319.34,52.71 L320.04,52.80 L320.74,52.88 L321.43,52.97 L322.13,53.05 L322.83,53.13 L323.53,53.21 L324.23,53.29 L324.93,53.37 L325.62,53.45 L326.32,53.53 L327.02,53.61 L327.72,53.68 L328.42,53.76 L329.12,53.84 L329.82,53.91 L330.51,53.99 L331.21,54.06 L331.91,54.14 L332.61,54.22 L333.31,54.29 L334.01,54.37 L334.70,54.44 L335.40,54.52 L336.10,54.59 L336.80,54.67 L337.50,54.75 L338.20,54.82 L338.90,54.90 L339.59,54.98 L340.29,55.06 L340.99,55.13 L341.69,55.21 L342.39,55.29 L343.09,55.37 L343.79,55.45 L344.48,55.53 L345.18,55.61 L345.88,55.69 L346.58,55.77 L347.28,55.84 L347.98,55.92 L348.67,56.00 L349.37,56.08 L350.07,56.15 L350.77,56.23 L351.47,56.31 L352.17,56.39 L352.87,56.46 L353.56,56.54 L354.26,56.61 L354.96,56.69 L355.66,56.77 L356.36,56.84 L357.06,56.92 L357.76,56.99 L358.45,57.07 L359.15,57.14 L359.85,57.22 L360.55,57.29 L361.25,57.37 L361.95,57.44 L362.64,57.51 L362.64,68.20 L361.95,68.10 L361.25,68.01 L360.55,67.91 L359.85,67.82 L359.15,67.72 L358.45,67.62 L357.76,67.52 L357.06,67.42 L356.36,67.32 L355.66,67.22 L354.96,67.11 L354.26,67.01 L353.56,66.90 L352.87,66.80 L352.17,66.69 L351.47,66.58 L350.77,66.48 L350.07,66.37 L349.37,66.26 L348.67,66.14 L347.98,66.03 L347.28,65.92 L346.58,65.81 L345.88,65.69 L345.18,65.58 L344.48,65.46 L343.79,65.35 L343.09,65.23 L342.39,65.11 L341.69,64.99 L340.99,64.87 L340.29,64.75 L339.59,64.63 L338.90,64.51 L338.20,64.38 L337.50,64.26 L336.80,64.13 L336.10,64.00 L335.40,63.87 L334.70,63.74 L334.01,63.60 L333.31,63.47 L332.61,63.33 L331.91,63.20 L331.21,63.06 L330.51,62.92 L329.82,62.78 L329.12,62.63 L328.42,62.49 L327.72,62.35 L327.02,62.20 L326.32,62.06 L325.62,61.91 L324.93,61.76 L324.23,61.61 L323.53,61.46 L322.83,61.30 L322.13,61.15 L321.43,61.00 L320.74,60.84 L320.04,60.68 L319.34,60.53 L318.64,60.37 L317.94,60.21 L317.24,60.05 L316.54,59.90 L315.85,59.74 L315.15,59.58 L314.45,59.42 L313.75,59.26 L313.05,59.09 L312.35,58.93 L311.65,58.77 L310.96,58.60 L310.26,58.44 L309.56,58.27 L308.86,58.11 L308.16,57.94 L307.46,57.77 L306.76,57.60 L306.07,57.43 L305.37,57.26 L304.67,57.08 L303.97,56.91 L303.27,56.73 L302.57,56.55 L301.88,56.38 L301.18,56.19 L300.48,56.01 L299.78,55.83 L299.08,55.64 L298.38,55.45 L297.68,55.26 L296.99,55.06 L296.29,54.85 L295.59,54.64 L294.89,54.43 L294.19,54.22 L293.49,54.00 L292.79,53.78 L292.10,53.56 L291.40,53.34 L290.70,53.11 L290.00,52.88 L289.30,52.65 L288.60,52.42 L287.91,52.19 L287.21,51.96 L286.51,51.72 L285.81,51.49 L285.11,51.25 L284.41,51.02 L283.71,50.78 L283.02,50.53 L282.32,50.29 L281.62,50.04 L280.92,49.79 L280.22,49.54 L279.52,49.29 L278.82,49.04 L278.13,48.78 L277.43,48.52 L276.73,48.26 L276.03,48.00 L275.33,47.74 L274.63,47.47 L273.94,47.21 L273.24,46.94 L272.54,46.67 L271.84,46.41 L271.14,46.14 L270.44,45.87 L269.74,45.60 L269.05,45.33 L268.35,45.05 L267.65,44.78 L266.95,44.51 L266.25,44.23 L265.55,43.95 L264.86,43.67 L264.16,43.38 L263.46,43.10 L262.76,42.81 L262.06,42.52 L261.36,42.22 L260.66,41.92 L259.97,41.61 L259.27,41.31 L258.57,40.99 L257.87,40.68 L257.17,40.35 L256.47,40.02 L255.77,39.68 L255.08,39.33 L254.38,38.97 L253.68,38.61 L252.98,38.24 L252.28,37.87 L251.58,37.50 L250.88,37.12Z" fill="#31688e" fill-opacity="0.03" stroke="#31688e" stroke-opacity="0.5" stroke-width="0.6"/>
<path d="M250.88,34.86 L251.58,35.22 L252.28,35.57 L252.98,35.92 L253.68,36.26 L254.38,36.60 L255.08,36.93 L255.77,37.26 L256.47,37.58 L257.17,37.89 L257.87,38.19 L258.57,38.48 L259.27,38.77 L259.97,39.05 L260.66,39.33 L261.36,39.60 L262.06,39.87 L262.76,40.13 L263.46,40.39 L264.16,40.65 L264.86,40.90 L265.55,41.15 L266.25,41.40 L266.95,41.65 L267.65,41.89 L268.35,42.13 L269.05,42.37 L269.74,42.61 L270.44,42.85 L271.14,43.09 L271.84,43.32 L272.54,43.56 L273.24,43.79 L273.94,44.02 L274.63,44.25 L275.33,44.48 L276.03,44.71 L276.73,44.93 L277.43,45.15 L278.13,45.37 L278.82,45.59 L279.52,45.81 L280.22,46.03 L280.92,46.24 L281.62,46.45 L282.32,46.66 L283.02,46.86 L283.71,47.06 L284.41,47.26 L285.11,47.46 L285.81,47.66 L286.51,47.85 L287.21,48.04 L287.91,48.23 L288.60,48.42 L289.30,48.61 L290.00,48.80 L290.70,48.99 L291.40,49.17 L292.10,49.35 L292.79,49.53 L293.49,49.71 L294.19,49.88 L294.89,50.05 L295.59,50.22 L296.29,50.38 L296.99,50.54 L297.68,50.70 L298.38,50.85 L299.08,51.00 L299.78,51.14 L300.48,51.28 L301.18,51.41 L301.88,51.54 L302.57,51.67 L303.27,51.79 L303.97,51.92 L304.67,52.04 L305.37,52.15 L306.07,52.27 L306.76,52.38 L307.46,52.49 L308.16,52.59 L308.86,52.70 L309.56,52.80 L310.26,52.90 L310.96,53.00 L311.65,53.09 L312.35,53.19 L313.05,53.28 L313.75,53.37 L314.45,53.46 L315.15,53.55 L315.85,53.64 L316.54,53.73 L317.24,53.82 L317.94,53.90 L318.64,53.99 L319.34,54.07 L320.04,54.16 L320.74,54.24 L321.43,54.33 L322.13,54.41 L322.83,54.49 L323.53,54.57 L324.23,54.65 L324.93,54.73 L325.62,54.81 L326.32,54.89 L327.02,54.96 L327.72,55.04 L328.42,55.12 L329.12,55.20 L329.82,55.27 L330.51,55.35 L331.21,55.42 L331.91,55.50 L332.61,55.57 L333.31,55.65 L334.01,55.72 L334.70,55.80 L335.40,55.88 L336.10,55.95 L336.80,56.03 L337.50,56.10 L338.20,56.18 L338.90,56.26 L339.59,56.34 L340.29,56.41 L340.99,56.49 L341.69,56.57 L342.39,56.65 L343.09,56.73 L343.79,56.81 L344.48,56.89 L345.18,56.97 L345.88,57.05 L346.58,57.12 L347.28,57.20 L347.98,57.28 L348.67,57.36 L349.37,57.44 L350.07,57.51 L350.77,57.59 L351.47,57.67 L352.17,57.74 L352.87,57.82 L353.56,57.90 L354.26,57.97 L354.96,58.05 L355.66,58.12 L356.36,58.20 L357.06,58.28 L357.76,58.35 L358.45,58.43 L359.15,58.50 L359.85,58.58 L360.55,58.65 L361.25,58.72 L361.95,58.80 L362.64,58.87 L362.64,66.84 L361.95,66.75 L361.25,66.65 L360.55,66.56 L359.85,66.46 L359.15,66.36 L358.45,66.26 L357.76,66.16 L357.06,66.06 L356.36,65.96 L355.66,65.86 L354.96,65.76 L354.26,65.65 L353.56,65.55 L352.87,65.44 L352.17,65.33 L351.47,65.23 L350.77,65.12 L350.07,65.01 L349.37,64.90 L348.67,64.79 L347.98,64.67 L347.28,64.56 L346.58,64.45 L345.88,64.33 L345.18,64.22 L344.48,64.10 L343.79,63.99 L343.09,63.87 L342.39,63.75 L341.69,63.63 L340.99,63.52 L340.29,63.39 L339.59,63.27 L338.90,63.15 L338.20,63.02 L337.50,62.90 L336.80,62.77 L336.10,62.64 L335.40,62.51 L334.70,62.38 L334.01,62.24 L333.31,62.11 L332.61,61.97 L331.91,61.84 L331.21,61.70 L330.51,61.56 L329.82,61.42 L329.12,61.28 L328.42,61.13 L327.72,60.99 L327.02,60.84 L326.32,60.70 L325.62,60.55 L324.93,60.40 L324.23,60.25 L323.53,60.10 L322.83,59.95 L322.13,59.79 L321.43,59.64 L320.74,59.48 L320.04,59.33 L319.34,59.17 L318.64,59.01 L317.94,58.85 L317.24,58.70 L316.54,58.54 L315.85,58.38 L315.15,58.22 L314.45,58.06 L313.75,57.90 L313.05,57.74 L312.35,57.57 L311.65,57.41 L310.96,57.25 L310.26,57.08 L309.56,56.92 L308.86,56.75 L308.16,56.58 L307.46,56.41 L306.76,56.24 L306.07,56.07 L305.37,55.90 L304.67,55.72 L303.97,55.55 L303.27,55.37 L302.57,55.20 L301.88,55.02 L301.18,54.84 L300.48,54.65 L299.78,54.47 L299.08,54.28 L298.38,54.09 L297.68,53.90 L296.99,53.70 L296.29,53.49 L295.59,53.29 L294.89,53.08 L294.19,52.86 L293.49,52.64 L292.79,52.43 L292.10,52.20 L291.40,51.98 L290.70,51.75 L290.00,51.52 L289.30,51.29 L288.60,51.06 L287.91,50.83 L287.21,50.60 L286.51,50.36 L285.81,50.13 L285.11,49.90 L284.41,49.66 L283.71,49.42 L283.02,49.18 L282.32,48.93 L281.62,48.68 L280.92,48.44 L280.22,48.18 L279.52,47.93 L278.82,47.68 L278.13,47.42 L277.43,47.16 L276.73,46.90 L276.03,46.64 L275.33,46.38 L274.63,46.12 L273.94,45.85 L273.24,45.58 L272.54,45.32 L271.84,45.05 L271.14,44.78 L270.44,44.51 L269.74,44.24 L269.05,43.97 L268.35,43.70 L267.65,43.42 L266.95,43.15 L266.25,42.87 L265.55,42.59 L264.86,42.31 L264.16,42.03 L263.46,41.74 L262.76,41.45 L262.06,41.16 L261.36,40.86 L260.66,40.56 L259.97,40.26 L259.27,39.95 L258.57,39.63 L257.87,39.32 L257.17,38.99 L256.47,38.66 L255.77,38.32 L255.08,37.97 L254.38,37.61 L253.68,37.25 L252.98,36.89 L252.28,36.51 L251.58,36.14 L250.88,35.76Z" fill="#31688e" fill-opacity="0.03" stroke="#31688e" stroke-opacity="0.5" stroke-width="0.6"/>
<path d="M250.19,39.11 L251.58,39.51 L252.28,39.90 L252.98,40.29 L253.68,40.68 L254.38,41.08 L255.08,41.48 L255.77,41.88 L256.47,42.29 L257.17,42.71 L257.87,43.13 L258.57,43.57 L259.27,44.00 L259.97,44.44 L260.66,44.88 L261.36,45.33 L262.06,45.77 L262.76,46.21 L263.46,46.66 L264.16,47.11 L264.86,47.55 L265.55,48.00 L266.25,48.44 L266.95,48.89 L267.65,49.33 L268.35,49.77 L269.05,50.21 L269.74,50.65 L270.44,51.09 L271.14,51.52 L271.84,51.95 L272.54,52.37 L273.24,52.80 L273.94,53.22 L274.63,53.64 L275.33,54.06 L276.03,54.48 L276.73,54.90 L277.43,55.32 L278.13,55.73 L278.82,56.14 L279.52,56.56 L280.22,56.96 L280.92,57.37 L281.62,57.78 L282.32,58.18 L283.02,58.58 L283.71,58.98 L284.41,59.38 L285.11,59.78 L285.81,60.17 L286.51,60.57 L287.21,60.96 L287.91,61.35 L288.60,61.74 L289.30,62.13 L290.00,62.51 L290.70,62.90 L291.40,63.28 L292.10,63.66 L292.79,64.04 L293.49,64.41 L294.19,64.79 L294.89,65.16 L295.59,65.52 L296.29,65.89 L296.99,66.24 L297.68,66.60 L298.38,66.95 L299.08,67.30 L299.78,67.64 L300.48,67.97 L301.18,68.31 L301.88,68.64 L302.57,68.97 L303.27,69.29 L303.97,69.62 L304.67,69.94 L305.37,70.25 L306.07,70.57 L306.76,70.88 L307.46,71.19 L308.16,71.50 L308.86,71.80 L309.56,72.11 L310.26,72.41 L310.96,72.71 L311.65,73.00 L312.35,73.30 L313.05,73.59 L313.75,73.88 L314.45,74.17 L315.15,74.46 L315.85,74.75 L316.54,75.03 L317.24,75.32 L317.94,75.60 L318.64,75.88 L319.34,76.16 L320.04,76.44 L320.74,76.72 L321.43,77.00 L322.13,77.28 L322.83,77.55 L323.53,77.82 L324.23,78.09 L324.93,78.36 L325.62,78.63 L326.32,78.89 L327.02,79.16 L327.72,79.42 L328.42,79.69 L329.12,79.95 L329.82,80.21 L330.51,80.47 L331.21,80.73 L331.91,80.99 L332.61,81.25 L333.31,81.51 L334.01,81.77 L334.70,82.03 L335.40,82.28 L336.10,82.54 L336.80,82.80 L337.50,83.06 L338.20,83.33 L338.90,83.59 L339.59,83.85 L340.29,84.11 L340.99,84.38 L341.69,84.64 L342.39,84.91 L343.09,85.17 L343.79,85.44 L344.48,85.71 L345.18,85.97 L345.88,86.23 L346.58,86.50 L347.28,86.76 L347.98,87.03 L348.67,87.29 L349.37,87.56 L350.07,87.82 L350.77,88.08 L351.47,88.35 L352.17,88.61 L352.87,88.87 L353.56,89.13 L354.26,89.40 L354.96,89.66 L355.66,89.92 L356.36,90.18 L357.06,90.45 L357.76,90.71 L358.45,90.97 L359.15,91.23 L359.85,91.49 L360.55,91.75 L361.25,92.02 L361.95,92.28 L362.64,92.54 L362.64,105.22 L361.95,104.95 L361.25,104.68 L360.55,104.41 L359.85,104.14 L359.15,103.88 L358.45,103.61 L357.76,103.34 L357.06,103.06 L356.36,102.79 L355.66,102.52 L354.96,102.25 L354.26,101.97 L353.56,101.70 L352.87,101.42 L352.17,101.15 L351.47,100.87 L350.77,100.60 L350.07,100.32 L349.37,100.04 L348.67,99.76 L347.98,99.49 L347.28,99.21 L346.58,98.93 L345.88,98.65 L345.18,98.37 L344.48,98.09 L343.79,97.80 L343.09,97.52 L342.39,97.24 L341.69,96.96 L340.99,96.67 L340.29,96.39 L339.59,96.11 L338.90,95.82 L338.20,95.54 L337.50,95.25 L336.80,94.97 L336.10,94.68 L335.40,94.39 L334.70,94.10 L334.01,93.82 L333.31,93.53 L332.61,93.23 L331.91,92.94 L331.21,92.65 L330.51,92.35 L329.82,92.06 L329.12,91.76 L328.42,91.46 L327.72,91.16 L327.02,90.86 L326.32,90.56 L325.62,90.25 L324.93,89.95 L324.23,89.64 L323.53,89.33 L322.83,89.02 L322.13,88.70 L321.43,88.39 L320.74,88.07 L320.04,87.75 L319.34,87.43 L318.64,87.11 L317.94,86.79 L317.24,86.46 L316.54,86.14 L315.85,85.81 L315.15,85.49 L314.45,85.16 L313.75,84.83 L313.05,84.50 L312.35,84.17 L311.65,83.84 L310.96,83.50 L310.26,83.17 L309.56,82.83 L308.86,82.49 L308.16,82.16 L307.46,81.81 L306.76,81.47 L306.07,81.13 L305.37,80.78 L304.67,80.44 L303.97,80.09 L303.27,79.74 L302.57,79.39 L301.88,79.03 L301.18,78.68 L300.48,78.32 L299.78,77.96 L299.08,77.60 L298.38,77.23 L297.68,76.86 L296.99,76.49 L296.29,76.11 L295.59,75.74 L294.89,75.35 L294.19,74.97 L293.49,74.58 L292.79,74.19 L292.10,73.80 L291.40,73.41 L290.70,73.01 L290.00,72.62 L289.30,72.22 L288.60,71.82 L287.91,71.42 L287.21,71.02 L286.51,70.61 L285.81,70.21 L285.11,69.81 L284.41,69.40 L283.71,69.00 L283.02,68.59 L282.32,68.17 L281.62,67.76 L280.92,67.35 L280.22,66.93 L279.52,66.51 L278.82,66.09 L278.13,65.66 L277.43,65.24 L276.73,64.81 L276.03,64.38 L275.33,63.95 L274.63,63.52 L273.94,63.09 L273.24,62.65 L272.54,62.22 L271.84,61.78 L271.14,61.34 L270.44,60.89 L269.74,60.44 L269.05,59.99 L268.35,59.53 L267.65,59.07 L266.95,58.61 L266.25,58.15 L265.55,57.69 L264.86,57.22 L264.16,56.75 L263.46,56.29 L262.76,55.82 L262.06,55.35 L261.36,54.88 L260.66,54.41 L259.97,53.95 L259.27,53.48 L258.57,53.01 L257.87,52.55 L257.17,52.09 L256.47,51.61 L255.77,51.13 L255.08,50.65 L254.38,50.16 L253.68,49.67 L252.98,49.17 L252.28,48.68 L251.58,48.19 L250.19,47.70Z" fill="#35b779" fill-opacity="0.18"/>
<path d="M250.88,39.48 L251.58,39.87 L252.28,40.26 L252.98,40.65 L253.68,41.05 L254.38,41.44 L255.08,41.84 L255.77,42.24 L256.47,42.65 L257.17,43.07 L257.87,43.50 L258.57,43.93 L259.27,44.37 L259.97,44.80 L260.66,45.24 L261.36,45.69 L262.06,46.13 L262.76,46.58 L263.46,47.02 L264.16,47.47 L264.86,47.92 L265.55,48.36 L266.25,48.81 L266.95,49.25 L267.65,49.69 L268.35,50.14 L269.05,50.58 L269.74,51.01 L270.44,51.45 L271.14,51.88 L271.84,52.31 L272.54,52.73 L273.24,53.16 L273.94,53.58 L274.63,54.00 L275.33,54.42 L276.03,54.84 L276.73,55.26 L277.43,55.68 L278.13,56.09 L278.82,56.51 L279.52,56.92 L280.22,57.33 L280.92,57.73 L281.62,58.14 L282.32,58.54 L283.02,58.95 L283.71,59.35 L284.41,59.75 L285.11,60.14 L285.81,60.53 L286.51,60.93 L287.21,61.32 L287.91,61.71 L288.60,62.10 L289.30,62.49 L290.00,62.87 L290.70,63.26 L291.40,63.64 L292.10,64.02 L292.79,64.40 L293.49,64.78 L294.19,65.15 L294.89,65.52 L295.59,65.88 L296.29,66.25 L296.99,66.61 L297.68,66.96 L298.38,67.31 L299.08,67.66 L299.78,68.00 L300.48,68.34 L301.18,68.67 L301.88,69.00 L302.57,69.33 L303.27,69.66 L303.97,69.98 L304.67,70.30 L305.37,70.62 L306.07,70.93 L306.76,71.24 L307.46,71.55 L308.16,71.86 L308.86,72.17 L309.56,72.47 L310.26,72.77 L310.96,73.07 L311.65,73.37 L312.35,73.66 L313.05,73.95 L313.75,74.25 L314.45,74.54 L315.15,74.82 L315.85,75.11 L316.54,75.40 L317.24,75.68 L317.94,75.96 L318.64,76.25 L319.34,76.53 L320.04,76.81 L320.74,77.09 L321.43,77.36 L322.13,77.64 L322.83,77.91 L323.53,78.18 L324.23,78.45 L324.93,78.72 L325.62,78.99 L326.32,79.26 L327.02,79.52 L327.72,79.78 L328.42,80.05 L329.12,80.31 L329.82,80.57 L330.51,80.83 L331.21,81.09 L331.91,81.35 L332.61,81.61 L333.31,81.87 L334.01,82.13 L334.70,82.39 L335.40,82.65 L336.10,82.91 L336.80,83.17 L337.50,83.43 L338.20,83.69 L338.90,83.95 L339.59,84.21 L340.29,84.47 L340.99,84.74 L341.69,85.00 L342.39,85.27 L343.09,85.54 L343.79,85.80 L344.48,86.07 L345.18,86.33 L345.88,86.60 L346.58,86.86 L347.28,87.13 L347.98,87.39 L348.67,87.65 L349.37,87.92 L350.07,88.18 L350.77,88.44 L351.47,88.71 L352.17,88.97 L352.87,89.23 L353.56,89.50 L354.26,89.76 L354.96,90.02 L355.66,90.28 L356.36,90.55 L357.06,90.81 L357.76,91.07 L358.45,91.33 L359.15,91.59 L359.85,91.86 L360.55,92.12 L361.25,92.38 L361.95,92.64 L362.64,92.90 L362.64,104.85 L361.95,104.59 L361.25,104.32 L360.55,104.05 L359.85,103.78 L359.15,103.51 L358.45,103.24 L357.76,102.97 L357.06,102.70 L356.36,102.43 L355.66,102.16 L354.96,101.88 L354.26,101.61 L353.56,101.34 L352.87,101.06 L352.17,100.79 L351.47,100.51 L350.77,100.23 L350.07,99.96 L349.37,99.68 L348.67,99.40 L347.98,99.12 L347.28,98.84 L346.58,98.56 L345.88,98.28 L345.18,98.00 L344.48,97.72 L343.79,97.44 L343.09,97.16 L342.39,96.88 L341.69,96.60 L340.99,96.31 L340.29,96.03 L339.59,95.74 L338.90,95.46 L338.20,95.18 L337.50,94.89 L336.80,94.60 L336.10,94.32 L335.40,94.03 L334.70,93.74 L334.01,93.45 L333.31,93.16 L332.61,92.87 L331.91,92.58 L331.21,92.29 L330.51,91.99 L329.82,91.70 L329.12,91.40 L328.42,91.10 L327.72,90.80 L327.02,90.50 L326.32,90.20 L325.62,89.89 L324.93,89.59 L324.23,89.28 L323.53,88.97 L322.83,88.66 L322.13,88.34 L321.43,88.03 L320.74,87.71 L320.04,87.39 L319.34,87.07 L318.64,86.75 L317.94,86.43 L317.24,86.10 L316.54,85.78 L315.85,85.45 L315.15,85.13 L314.45,84.80 L313.75,84.47 L313.05,84.14 L312.35,83.81 L311.65,83.48 L310.96,83.14 L310.26,82.81 L309.56,82.47 L308.86,82.13 L308.16,81.79 L307.46,81.45 L306.76,81.11 L306.07,80.77 L305.37,80.42 L304.67,80.07 L303.97,79.73 L303.27,79.37 L302.57,79.02 L301.88,78.67 L301.18,78.31 L300.48,77.96 L299.78,77.60 L299.08,77.24 L298.38,76.87 L297.68,76.50 L296.99,76.13 L296.29,75.75 L295.59,75.37 L294.89,74.99 L294.19,74.61 L293.49,74.22 L292.79,73.83 L292.10,73.44 L291.40,73.05 L290.70,72.65 L290.00,72.25 L289.30,71.86 L288.60,71.46 L287.91,71.06 L287.21,70.65 L286.51,70.25 L285.81,69.85 L285.11,69.45 L284.41,69.04 L283.71,68.63 L283.02,68.22 L282.32,67.81 L281.62,67.40 L280.92,66.98 L280.22,66.57 L279.52,66.15 L278.82,65.73 L278.13,65.30 L277.43,64.88 L276.73,64.45 L276.03,64.02 L275.33,63.59 L274.63,63.16 L273.94,62.73 L273.24,62.29 L272.54,61.85 L271.84,61.42 L271.14,60.97 L270.44,60.53 L269.74,60.08 L269.05,59.63 L268.35,59.17 L267.65,58.71 L266.95,58.25 L266.25,57.79 L265.55,57.32 L264.86,56.86 L264.16,56.39 L263.46,55.92 L262.76,55.46 L262.06,54.99 L261.36,54.52 L260.66,54.05 L259.97,53.58 L259.27,53.12 L258.57,52.65 L257.87,52.19 L257.17,51.72 L256.47,51.25 L255.77,50.77 L255.08,50.28 L254.38,49.79 L253.68,49.30 L252.98,48.81 L252.28,48.32 L251.58,47.83 L250.88,47.34Z" fill="#35b779" fill-opacity="0.03" stroke="#35b779" stroke-opacity="0.5" stroke-width="0.6"/>
<path d="M250.88,40.83 L251.58,41.23 L252.28,41.62 L252.98,42.01 L253.68,42.40 L254.38,42.80 L255.08,43.20 L255.77,43.60 L256.47,44.01 L257.17,44.43 L257.87,44.85 L258.57,45.29 L259.27,45.72 L259.97,46.16 L260.66,46.60 L261.36,47.05 L262.06,47.49 L262.76,47.93 L263.46,48.38 L264.16,48.83 L264.86,49.27 L265.55,49.72 L266.25,50.17 L266.95,50.61 L267.65,51.05 L268.35,51.49 L269.05,51.93 L269.74,52.37 L270.44,52.81 L271.14,53.24 L271.84,53.67 L272.54,54.09 L273.24,54.52 L273.94,54.94 L274.63,55.36 L275.33,55.78 L276.03,56.20 L276.73,56.62 L277.43,57.04 L278.13,57.45 L278.82,57.86 L279.52,58.28 L280.22,58.69 L280.92,59.09 L281.62,59.50 L282.32,59.90 L283.02,60.31 L283.71,60.71 L284.41,61.10 L285.11,61.50 L285.81,61.89 L286.51,62.29 L287.21,62.68 L287.91,63.07 L288.60,63.46 L289.30,63.85 L290.00,64.23 L290.70,64.62 L291.40,65.00 L292.10,65.38 L292.79,65.76 L293.49,66.13 L294.19,66.51 L294.89,66.88 L295.59,67.24 L296.29,67.61 L296.99,67.96 L297.68,68.32 L298.38,68.67 L299.08,69.02 L299.78,69.36 L300.48,69.70 L301.18,70.03 L301.88,70.36 L302.57,70.69 L303.27,71.01 L303.97,71.34 L304.67,71.66 L305.37,71.97 L306.07,72.29 L306.76,72.60 L307.46,72.91 L308.16,73.22 L308.86,73.52 L309.56,73.83 L310.26,74.13 L310.96,74.43 L311.65,74.72 L312.35,75.02 L313.05,75.31 L313.75,75.60 L314.45,75.89 L315.15,76.18 L315.85,76.47 L316.54,76.75 L317.24,77.04 L317.94,77.32 L318.64,77.60 L319.34,77.88 L320.04,78.16 L320.74,78.44 L321.43,78.72 L322.13,79.00 L322.83,79.27 L323.53,79.54 L324.23,79.81 L324.93,80.08 L325.62,80.35 L326.32,80.61 L327.02,80.88 L327.72,81.14 L328.42,81.41 L329.12,81.67 L329.82,81.93 L330.51,82.19 L331.21,82.45 L331.91,82.71 L332.61,82.97 L333.31,83.23 L334.01,83.49 L334.70,83.75 L335.40,84.00 L336.10,84.26 L336.80,84.52 L337.50,84.78 L338.20,85.05 L338.90,85.31 L339.59,85.57 L340.29,85.83 L340.99,86.10 L341.69,86.36 L342.39,86.63 L343.09,86.89 L343.79,87.16 L344.48,87.43 L345.18,87.69 L345.88,87.96 L346.58,88.22 L347.28,88.48 L347.98,88.75 L348.67,89.01 L349.37,89.28 L350.07,89.54 L350.77,89.80 L351.47,90.07 L352.17,90.33 L352.87,90.59 L353.56,90.85 L354.26,91.12 L354.96,91.38 L355.66,91.64 L356.36,91.90 L357.06,92.17 L357.76,92.43 L358.45,92.69 L359.15,92.95 L359.85,93.21 L360.55,93.47 L361.25,93.74 L361.95,94.00 L362.64,94.26 L362.64,103.50 L361.95,103.23 L361.25,102.96 L360.55,102.69 L359.85,102.42 L359.15,102.16 L358.45,101.89 L357.76,101.61 L357.06,101.34 L356.36,101.07 L355.66,100.80 L354.96,100.53 L354.26,100.25 L353.56,99.98 L352.87,99.70 L352.17,99.43 L351.47,99.15 L350.77,98.88 L350.07,98.60 L349.37,98.32 L348.67,98.04 L347.98,97.77 L347.28,97.49 L346.58,97.21 L345.88,96.93 L345.18,96.65 L344.48,96.37 L343.79,96.08 L343.09,95.80 L342.39,95.52 L341.69,95.24 L340.99,94.95 L340.29,94.67 L339.59,94.39 L338.90,94.10 L338.20,93.82 L337.50,93.53 L336.80,93.25 L336.10,92.96 L335.40,92.67 L334.70,92.38 L334.01,92.09 L333.31,91.80 L332.61,91.51 L331.91,91.22 L331.21,90.93 L330.51,90.63 L329.82,90.34 L329.12,90.04 L328.42,89.74 L327.72,89.44 L327.02,89.14 L326.32,88.84 L325.62,88.53 L324.93,88.23 L324.23,87.92 L323.53,87.61 L322.83,87.30 L322.13,86.98 L321.43,86.67 L320.74,86.35 L320.04,86.03 L319.34,85.71 L318.64,85.39 L317.94,85.07 L317.24,84.74 L316.54,84.42 L315.85,84.09 L315.15,83.77 L314.45,83.44 L313.75,83.11 L313.05,82.78 L312.35,82.45 L311.65,82.12 L310.96,81.78 L310.26,81.45 L309.56,81.11 L308.86,80.77 L308.16,80.43 L307.46,80.09 L306.76,79.75 L306.07,79.41 L305.37,79.06 L304.67,78.72 L303.97,78.37 L303.27,78.02 L302.57,77.66 L301.88,77.31 L301.18,76.96 L300.48,76.60 L299.78,76.24 L299.08,75.88 L298.38,75.51 L297.68,75.14 L296.99,74.77 L296.29,74.39 L295.59,74.02 L294.89,73.63 L294.19,73.25 L293.49,72.86 L292.79,72.47 L292.10,72.08 L291.40,71.69 L290.70,71.29 L290.00,70.90 L289.30,70.50 L288.60,70.10 L287.91,69.70 L287.21,69.30 L286.51,68.89 L285.81,68.49 L285.11,68.09 L284.41,67.68 L283.71,67.27 L283.02,66.87 L282.32,66.45 L281.62,66.04 L280.92,65.62 L280.22,65.21 L279.52,64.79 L278.82,64.37 L278.13,63.94 L277.43,63.52 L276.73,63.09 L276.03,62.66 L275.33,62.23 L274.63,61.80 L273.94,61.37 L273.24,60.93 L272.54,60.50 L271.84,60.06 L271.14,59.62 L270.44,59.17 L269.74,58.72 L269.05,58.27 L268.35,57.81 L267.65,57.35 L266.95,56.89 L266.25,56.43 L265.55,55.97 L264.86,55.50 L264.16,55.03 L263.46,54.57 L262.76,54.10 L262.06,53.63 L261.36,53.16 L260.66,52.69 L259.97,52.23 L259.27,51.76 L258.57,51.29 L257.87,50.83 L257.17,50.36 L256.47,49.89 L255.77,49.41 L255.08,48.93 L254.38,48.44 L253.68,47.94 L252.98,47.45 L252.28,46.96 L251.58,46.47 L250.88,45.98Z" fill="#35b779" fill-opacity="0.03" stroke="#35b779" stroke-opacity="0.5" stroke-width="0.6"/>
<path d="M250.88,33.61 L251.58,33.86 L252.28,34.11 L252.98,34.36 L253.68,34.60 L254.38,34.85 L255.08,35.09 L255.77,35.33 L256.47,35.57 L257.17,35.80 L257.87,36.04 L258.57,36.27 L259.27,36.50 L259.97,36.73 L260.66,36.96 L261.36,37.19 L262.06,37.41 L262.76,37.64 L263.46,37.87 L264.16,38.09 L264.86,38.31 L265.55,38.53 L266.25,38.75 L266.95,38.96 L267.65,39.18 L268.35,39.39 L269.05,39.59 L269.74,39.80 L270.44,40.00 L271.14,40.19 L271.84,40.38 L272.54,40.57 L273.24,40.76 L273.94,40.95 L274.63,41.13 L275.33,41.32 L276.03,41.50 L276.73,41.69 L277.43,41.87 L278.13,42.04 L278.82,42.22 L279.52,42.39 L280.22,42.56 L280.92,42.72 L281.62,42.88 L282.32,43.03 L283.02,43.18 L283.71,43.33 L284.41,43.47 L285.11,43.60 L285.81,43.73 L286.51,43.86 L287.21,43.98 L287.91,44.10 L288.60,44.21 L289.30,44.33 L290.00,44.44 L290.70,44.55 L291.40,44.66 L292.10,44.76 L292.79,44.86 L293.49,44.96 L294.19,45.06 L294.89,45.15 L295.59,45.24 L296.29,45.33 L296.99,45.42 L297.68,45.50 L298.38,45.58 L299.08,45.65 L299.78,45.72 L300.48,45.79 L301.18,45.86 L301.88,45.93 L302.57,46.00 L303.27,46.06 L303.97,46.12 L304.67,46.18 L305.37,46.24 L306.07,46.30 L306.76,46.36 L307.46,46.41 L308.16,46.47 L308.86,46.52 L309.56,46.57 L310.26,46.61 L310.96,46.66 L311.65,46.70 L312.35,46.74 L313.05,46.78 L313.75,46.81 L314.45,46.84 L315.15,46.88 L315.85,46.91 L316.54,46.94 L317.24,46.97 L317.94,47.00 L318.64,47.03 L319.34,47.05 L320.04,47.08 L320.74,47.11 L321.43,47.13 L322.13,47.15 L322.83,47.18 L323.53,47.20 L324.23,47.22 L324.93,47.24 L325.62,47.25 L326.32,47.27 L327.02,47.29 L327.72,47.30 L328.42,47.31 L329.12,47.32 L329.82,47.34 L330.51,47.35 L331.21,47.36 L331.91,47.37 L332.61,47.38 L333.31,47.39 L334.01,47.40 L334.70,47.41 L335.40,47.41 L336.10,47.42 L336.80,47.43 L337.50,47.44 L338.20,47.45 L338.90,47.45 L339.59,47.46 L340.29,47.47 L340.99,47.47 L341.69,47.48 L342.39,47.49 L343.09,47.49 L343.79,47.50 L344.48,47.51 L345.18,47.51 L345.88,47.52 L346.58,47.53 L347.28,47.53 L347.98,47.54 L348.67,47.55 L349.37,47.55 L350.07,47.56 L350.77,47.56 L351.47,47.57 L352.17,47.58 L352.87,47.58 L353.56,47.59 L354.26,47.59 L354.96,47.60 L355.66,47.60 L356.36,47.61 L357.06,47.61 L357.76,47.62 L358.45,47.62 L359.15,47.63 L359.85,47.63 L360.55,47.63 L361.25,47.64 L361.95,47.64 L362.64,47.64" fill="none" stroke="#440154" stroke-width="1.65"/>
<path d="M250.88,35.31 L251.58,35.68 L252.28,36.04 L252.98,36.40 L253.68,36.76 L254.38,37.11 L255.08,37.45 L255.77,37.79 L256.47,38.12 L257.17,38.44 L257.87,38.75 L258.57,39.06 L259.27,39.36 L259.97,39.65 L260.66,39.94 L261.36,40.23 L262.06,40.51 L262.76,40.79 L263.46,41.07 L264.16,41.34 L264.86,41.61 L265.55,41.87 L266.25,42.14 L266.95,42.40 L267.65,42.66 L268.35,42.91 L269.05,43.17 L269.74,43.43 L270.44,43.68 L271.14,43.93 L271.84,44.18 L272.54,44.44 L273.24,44.69 L273.94,44.94 L274.63,45.18 L275.33,45.43 L276.03,45.67 L276.73,45.92 L277.43,46.16 L278.13,46.40 L278.82,46.64 L279.52,46.87 L280.22,47.10 L280.92,47.34 L281.62,47.57 L282.32,47.79 L283.02,48.02 L283.71,48.24 L284.41,48.46 L285.11,48.68 L285.81,48.89 L286.51,49.11 L287.21,49.32 L287.91,49.53 L288.60,49.74 L289.30,49.95 L290.00,50.16 L290.70,50.37 L291.40,50.57 L292.10,50.78 L292.79,50.98 L293.49,51.18 L294.19,51.37 L294.89,51.56 L295.59,51.75 L296.29,51.94 L296.99,52.12 L297.68,52.30 L298.38,52.47 L299.08,52.64 L299.78,52.81 L300.48,52.97 L301.18,53.12 L301.88,53.28 L302.57,53.43 L303.27,53.58 L303.97,53.73 L304.67,53.88 L305.37,54.03 L306.07,54.17 L306.76,54.31 L307.46,54.45 L308.16,54.59 L308.86,54.72 L309.56,54.86 L310.26,54.99 L310.96,55.12 L311.65,55.25 L312.35,55.38 L313.05,55.51 L313.75,55.64 L314.45,55.76 L315.15,55.89 L315.85,56.01 L316.54,56.13 L317.24,56.26 L317.94,56.38 L318.64,56.50 L319.34,56.62 L320.04,56.74 L320.74,56.86 L321.43,56.98 L322.13,57.10 L322.83,57.22 L323.53,57.33 L324.23,57.45 L324.93,57.56 L325.62,57.68 L326.32,57.79 L327.02,57.90 L327.72,58.02 L328.42,58.13 L329.12,58.24 L329.82,58.35 L330.51,58.45 L331.21,58.56 L331.91,58.67 L332.61,58.77 L333.31,58.88 L334.01,58.98 L334.70,59.09 L335.40,59.19 L336.10,59.30 L336.80,59.40 L337.50,59.50 L338.20,59.60 L338.90,59.70 L339.59,59.80 L340.29,59.90 L340.99,60.00 L341.69,60.10 L342.39,60.20 L343.09,60.30 L343.79,60.40 L344.48,60.50 L345.18,60.59 L345.88,60.69 L346.58,60.79 L347.28,60.88 L347.98,60.98 L348.67,61.07 L349.37,61.17 L350.07,61.26 L350.77,61.35 L351.47,61.45 L352.17,61.54 L352.87,61.63 L353.56,61.72 L354.26,61.81 L354.96,61.90 L355.66,61.99 L356.36,62.08 L357.06,62.17 L357.76,62.26 L358.45,62.34 L359.15,62.43 L359.85,62.52 L360.55,62.60 L361.25,62.69 L361.95,62.77 L362.64,62.86" fill="none" stroke="#31688e" stroke-width="1.65" stroke-dasharray="9.14,2.29,1.43,2.29"/>
<path d="M250.88,43.41 L251.58,43.85 L252.28,44.29 L252.98,44.73 L253.68,45.17 L254.38,45.62 L255.08,46.06 L255.77,46.51 L256.47,46.95 L257.17,47.40 L257.87,47.84 L258.57,48.29 L259.27,48.74 L259.97,49.19 L260.66,49.65 L261.36,50.10 L262.06,50.56 L262.76,51.02 L263.46,51.47 L264.16,51.93 L264.86,52.39 L265.55,52.84 L266.25,53.30 L266.95,53.75 L267.65,54.20 L268.35,54.65 L269.05,55.10 L269.74,55.55 L270.44,55.99 L271.14,56.43 L271.84,56.86 L272.54,57.29 L273.24,57.73 L273.94,58.15 L274.63,58.58 L275.33,59.01 L276.03,59.43 L276.73,59.86 L277.43,60.28 L278.13,60.70 L278.82,61.12 L279.52,61.53 L280.22,61.95 L280.92,62.36 L281.62,62.77 L282.32,63.18 L283.02,63.59 L283.71,63.99 L284.41,64.39 L285.11,64.79 L285.81,65.19 L286.51,65.59 L287.21,65.99 L287.91,66.38 L288.60,66.78 L289.30,67.17 L290.00,67.56 L290.70,67.95 L291.40,68.34 L292.10,68.73 L292.79,69.12 L293.49,69.50 L294.19,69.88 L294.89,70.25 L295.59,70.63 L296.29,71.00 L296.99,71.37 L297.68,71.73 L298.38,72.09 L299.08,72.45 L299.78,72.80 L300.48,73.15 L301.18,73.49 L301.88,73.84 L302.57,74.18 L303.27,74.52 L303.97,74.85 L304.67,75.19 L305.37,75.52 L306.07,75.85 L306.76,76.18 L307.46,76.50 L308.16,76.83 L308.86,77.15 L309.56,77.47 L310.26,77.79 L310.96,78.11 L311.65,78.42 L312.35,78.73 L313.05,79.05 L313.75,79.36 L314.45,79.67 L315.15,79.98 L315.85,80.28 L316.54,80.59 L317.24,80.89 L317.94,81.19 L318.64,81.50 L319.34,81.80 L320.04,82.10 L320.74,82.40 L321.43,82.69 L322.13,82.99 L322.83,83.28 L323.53,83.58 L324.23,83.87 L324.93,84.15 L325.62,84.44 L326.32,84.73 L327.02,85.01 L327.72,85.29 L328.42,85.57 L329.12,85.85 L329.82,86.13 L330.51,86.41 L331.21,86.69 L331.91,86.97 L332.61,87.24 L333.31,87.52 L334.01,87.79 L334.70,88.06 L335.40,88.34 L336.10,88.61 L336.80,88.89 L337.50,89.16 L338.20,89.43 L338.90,89.70 L339.59,89.98 L340.29,90.25 L340.99,90.53 L341.69,90.80 L342.39,91.07 L343.09,91.35 L343.79,91.62 L344.48,91.90 L345.18,92.17 L345.88,92.44 L346.58,92.71 L347.28,92.99 L347.98,93.26 L348.67,93.53 L349.37,93.80 L350.07,94.07 L350.77,94.34 L351.47,94.61 L352.17,94.88 L352.87,95.15 L353.56,95.42 L354.26,95.68 L354.96,95.95 L355.66,96.22 L356.36,96.49 L357.06,96.75 L357.76,97.02 L358.45,97.29 L359.15,97.55 L359.85,97.82 L360.55,98.08 L361.25,98.35 L361.95,98.61 L362.64,98.88" fill="none" stroke="#35b779" stroke-width="1.95" stroke-dasharray="1.75,2.04"/>
</g>
<rect x="240.80" y="62.30" width="46.8" height="32.0" rx="1.7" fill="#fff" fill-opacity="0.8" stroke="#cccccc" stroke-opacity="0.9" stroke-width="1.1"/>
<line x1="244.10" y1="69.70" x2="257.00" y2="69.70" stroke="#440154" stroke-width="1.65"/>
<text x="263.70" y="72.70" font-size="8.6">2 h</text>
<line x1="244.10" y1="78.05" x2="257.00" y2="78.05" stroke="#31688e" stroke-width="1.65" stroke-dasharray="9.14,2.29,1.43,2.29"/>
<text x="263.70" y="81.05" font-size="8.6">18 h</text>
<line x1="244.10" y1="86.40" x2="257.00" y2="86.40" stroke="#35b779" stroke-width="1.95" stroke-dasharray="1.75,2.04"/>
<text x="263.70" y="89.40" font-size="8.6">bake</text>
<line x1="243.90" y1="98.3" x2="243.90" y2="103.30" stroke="#000" stroke-width="1.2"/>
<line x1="271.84" y1="98.3" x2="271.84" y2="103.30" stroke="#000" stroke-width="1.2"/>
<line x1="299.78" y1="98.3" x2="299.78" y2="103.30" stroke="#000" stroke-width="1.2"/>
<line x1="327.72" y1="98.3" x2="327.72" y2="103.30" stroke="#000" stroke-width="1.2"/>
<line x1="355.66" y1="98.3" x2="355.66" y2="103.30" stroke="#000" stroke-width="1.2"/>
<line x1="232.00" y1="31.87" x2="237.0" y2="31.87" stroke="#000" stroke-width="1.2"/>
<text x="227.00" y="35.47" font-size="8.6" text-anchor="end">0.0</text>
<line x1="232.00" y1="49.98" x2="237.0" y2="49.98" stroke="#000" stroke-width="1.2"/>
<text x="227.00" y="53.58" font-size="8.6" text-anchor="end">−0.1</text>
<line x1="232.00" y1="68.09" x2="237.0" y2="68.09" stroke="#000" stroke-width="1.2"/>
<text x="227.00" y="71.69" font-size="8.6" text-anchor="end">−0.2</text>
<line x1="232.00" y1="86.20" x2="237.0" y2="86.20" stroke="#000" stroke-width="1.2"/>
<text x="227.00" y="89.80" font-size="8.6" text-anchor="end">−0.3</text>
<rect x="237.0" y="19.3" width="125.7" height="79.0" fill="none" stroke="#000" stroke-width="1.3"/>
<line x1="257.87" y1="114.8" x2="257.87" y2="194.2" stroke="#7a7a7a" stroke-width="0.9" stroke-dasharray="0.9,1.25"/>
<line x1="299.78" y1="114.8" x2="299.78" y2="194.2" stroke="#7a7a7a" stroke-width="0.9" stroke-dasharray="0.9,1.25"/>
<line x1="341.69" y1="114.8" x2="341.69" y2="194.2" stroke="#7a7a7a" stroke-width="0.9" stroke-dasharray="0.9,1.25"/>
<g clip-path="url(#c11)">
<path d="M250.88,158.10 L251.58,160.51 L252.28,162.59 L252.98,164.40 L253.68,165.99 L254.38,167.40 L255.08,168.67 L255.77,169.81 L256.47,170.85 L257.17,171.79 L257.87,172.65 L258.57,173.45 L259.27,174.19 L259.97,174.87 L260.66,175.50 L261.36,176.10 L262.06,176.65 L262.76,177.17 L263.46,177.66 L264.16,178.12 L264.86,178.56 L265.55,178.97 L266.25,179.36 L266.95,179.73 L267.65,180.08 L268.35,180.42 L269.05,180.74 L269.74,181.05 L270.44,181.34 L271.14,181.62 L271.84,181.89 L272.54,182.14 L273.24,182.39 L273.94,182.63 L274.63,182.86 L275.33,183.08 L276.03,183.29 L276.73,183.50 L277.43,183.69 L278.13,183.88 L278.82,184.07 L279.52,184.25 L280.22,184.42 L280.92,184.59 L281.62,184.75 L282.32,184.91 L283.02,185.06 L283.71,185.21 L284.41,185.35 L285.11,185.49 L285.81,185.63 L286.51,185.76 L287.21,185.89 L287.91,186.02 L288.60,186.14 L289.30,186.26 L290.00,186.37 L290.70,186.49 L291.40,186.60 L292.10,186.71 L292.79,186.81 L293.49,186.91 L294.19,187.01 L294.89,187.11 L295.59,187.21 L296.29,187.30 L296.99,187.39 L297.68,187.48 L298.38,187.57 L299.08,187.66 L299.78,187.74 L300.48,187.82 L301.18,187.90 L301.88,187.98 L302.57,188.06 L303.27,188.14 L303.97,188.21 L304.67,188.29 L305.37,188.36 L306.07,188.43 L306.76,188.50 L307.46,188.57 L308.16,188.63 L308.86,188.70 L309.56,188.76 L310.26,188.83 L310.96,188.89 L311.65,188.95 L312.35,189.01 L313.05,189.07 L313.75,189.13 L314.45,189.18 L315.15,189.24 L315.85,189.29 L316.54,189.35 L317.24,189.40 L317.94,189.45 L318.64,189.51 L319.34,189.56 L320.04,189.61 L320.74,189.66 L321.43,189.71 L322.13,189.75 L322.83,189.80 L323.53,189.85 L324.23,189.89 L324.93,189.94 L325.62,189.98 L326.32,190.03 L327.02,190.07 L327.72,190.12 L328.42,190.16 L329.12,190.20 L329.82,190.24 L330.51,190.28 L331.21,190.32 L331.91,190.36 L332.61,190.40 L333.31,190.44 L334.01,190.48 L334.70,190.51 L335.40,190.55 L336.10,190.59 L336.80,190.62 L337.50,190.66 L338.20,190.69 L338.90,190.73 L339.59,190.76 L340.29,190.80 L340.99,190.83 L341.69,190.86 L342.39,190.90 L343.09,190.93 L343.79,190.96 L344.48,190.99 L345.18,191.02 L345.88,191.06 L346.58,191.09 L347.28,191.12 L347.98,191.15 L348.67,191.18 L349.37,191.21 L350.07,191.23 L350.77,191.26 L351.47,191.29 L352.17,191.32 L352.87,191.35 L353.56,191.37 L354.26,191.40 L354.96,191.43 L355.66,191.45 L356.36,191.48 L357.06,191.51 L357.76,191.53 L358.45,191.56 L359.15,191.58 L359.85,191.61 L360.55,191.63 L361.25,191.66 L361.95,191.68 L362.64,191.71" fill="none" stroke="#440154" stroke-width="1.65"/>
<path d="M250.88,158.34 L251.58,160.76 L252.28,162.83 L252.98,164.64 L253.68,166.23 L254.38,167.65 L255.08,168.91 L255.77,170.06 L256.47,171.09 L257.17,172.03 L257.87,172.90 L258.57,173.70 L259.27,174.43 L259.97,175.11 L260.66,175.75 L261.36,176.34 L262.06,176.89 L262.76,177.42 L263.46,177.90 L264.16,178.37 L264.86,178.80 L265.55,179.21 L266.25,179.60 L266.95,179.97 L267.65,180.33 L268.35,180.66 L269.05,180.98 L269.74,181.29 L270.44,181.58 L271.14,181.86 L271.84,182.13 L272.54,182.39 L273.24,182.64 L273.94,182.87 L274.63,183.10 L275.33,183.32 L276.03,183.53 L276.73,183.74 L277.43,183.94 L278.13,184.13 L278.82,184.31 L279.52,184.49 L280.22,184.66 L280.92,184.83 L281.62,184.99 L282.32,185.15 L283.02,185.31 L283.71,185.45 L284.41,185.60 L285.11,185.74 L285.81,185.87 L286.51,186.01 L287.21,186.14 L287.91,186.26 L288.60,186.38 L289.30,186.50 L290.00,186.62 L290.70,186.73 L291.40,186.84 L292.10,186.95 L292.79,187.05 L293.49,187.16 L294.19,187.26 L294.89,187.36 L295.59,187.45 L296.29,187.55 L296.99,187.64 L297.68,187.73 L298.38,187.82 L299.08,187.90 L299.78,187.99 L300.48,188.07 L301.18,188.15 L301.88,188.23 L302.57,188.31 L303.27,188.38 L303.97,188.46 L304.67,188.53 L305.37,188.60 L306.07,188.67 L306.76,188.74 L307.46,188.81 L308.16,188.88 L308.86,188.94 L309.56,189.01 L310.26,189.07 L310.96,189.13 L311.65,189.19 L312.35,189.25 L313.05,189.31 L313.75,189.37 L314.45,189.43 L315.15,189.48 L315.85,189.54 L316.54,189.59 L317.24,189.65 L317.94,189.70 L318.64,189.75 L319.34,189.80 L320.04,189.85 L320.74,189.90 L321.43,189.95 L322.13,190.00 L322.83,190.05 L323.53,190.09 L324.23,190.14 L324.93,190.18 L325.62,190.23 L326.32,190.27 L327.02,190.32 L327.72,190.36 L328.42,190.40 L329.12,190.44 L329.82,190.48 L330.51,190.53 L331.21,190.57 L331.91,190.60 L332.61,190.64 L333.31,190.68 L334.01,190.72 L334.70,190.76 L335.40,190.79 L336.10,190.83 L336.80,190.87 L337.50,190.90 L338.20,190.94 L338.90,190.97 L339.59,191.01 L340.29,191.04 L340.99,191.08 L341.69,191.11 L342.39,191.14 L343.09,191.17 L343.79,191.21 L344.48,191.24 L345.18,191.27 L345.88,191.30 L346.58,191.33 L347.28,191.36 L347.98,191.39 L348.67,191.42 L349.37,191.45 L350.07,191.48 L350.77,191.51 L351.47,191.53 L352.17,191.56 L352.87,191.59 L353.56,191.62 L354.26,191.65 L354.96,191.67 L355.66,191.70 L356.36,191.72 L357.06,191.75 L357.76,191.78 L358.45,191.80 L359.15,191.83 L359.85,191.85 L360.55,191.88 L361.25,191.90 L361.95,191.93 L362.64,191.95" fill="none" stroke="#31688e" stroke-width="1.65" stroke-dasharray="9.14,2.29,1.43,2.29"/>
<path d="M250.88,151.71 L251.58,155.59 L252.28,158.82 L252.98,161.55 L253.68,163.89 L254.38,165.91 L255.08,167.69 L255.77,169.25 L256.47,170.64 L257.17,171.88 L257.87,173.00 L258.57,174.01 L259.27,174.93 L259.97,175.76 L260.66,176.53 L261.36,177.24 L262.06,177.89 L262.76,178.49 L263.46,179.05 L264.16,179.58 L264.86,180.06 L265.55,180.52 L266.25,180.94 L266.95,181.34 L267.65,181.72 L268.35,182.08 L269.05,182.41 L269.74,182.73 L270.44,183.03 L271.14,183.32 L271.84,183.59 L272.54,183.84 L273.24,184.09 L273.94,184.32 L274.63,184.55 L275.33,184.76 L276.03,184.96 L276.73,185.16 L277.43,185.34 L278.13,185.52 L278.82,185.70 L279.52,185.86 L280.22,186.02 L280.92,186.17 L281.62,186.32 L282.32,186.46 L283.02,186.60 L283.71,186.73 L284.41,186.86 L285.11,186.98 L285.81,187.10 L286.51,187.22 L287.21,187.33 L287.91,187.44 L288.60,187.54 L289.30,187.64 L290.00,187.74 L290.70,187.83 L291.40,187.93 L292.10,188.02 L292.79,188.10 L293.49,188.19 L294.19,188.27 L294.89,188.35 L295.59,188.43 L296.29,188.50 L296.99,188.58 L297.68,188.65 L298.38,188.72 L299.08,188.79 L299.78,188.86 L300.48,188.92 L301.18,188.98 L301.88,189.04 L302.57,189.11 L303.27,189.16 L303.97,189.22 L304.67,189.28 L305.37,189.33 L306.07,189.39 L306.76,189.44 L307.46,189.49 L308.16,189.54 L308.86,189.59 L309.56,189.64 L310.26,189.68 L310.96,189.73 L311.65,189.78 L312.35,189.82 L313.05,189.86 L313.75,189.91 L314.45,189.95 L315.15,189.99 L315.85,190.03 L316.54,190.07 L317.24,190.11 L317.94,190.14 L318.64,190.18 L319.34,190.22 L320.04,190.25 L320.74,190.29 L321.43,190.32 L322.13,190.35 L322.83,190.39 L323.53,190.42 L324.23,190.45 L324.93,190.48 L325.62,190.51 L326.32,190.55 L327.02,190.57 L327.72,190.60 L328.42,190.63 L329.12,190.66 L329.82,190.69 L330.51,190.72 L331.21,190.74 L331.91,190.77 L332.61,190.80 L333.31,190.82 L334.01,190.85 L334.70,190.87 L335.40,190.90 L336.10,190.92 L336.80,190.95 L337.50,190.97 L338.20,190.99 L338.90,191.02 L339.59,191.04 L340.29,191.06 L340.99,191.08 L341.69,191.10 L342.39,191.12 L343.09,191.15 L343.79,191.17 L344.48,191.19 L345.18,191.21 L345.88,191.23 L346.58,191.25 L347.28,191.26 L347.98,191.28 L348.67,191.30 L349.37,191.32 L350.07,191.34 L350.77,191.36 L351.47,191.37 L352.17,191.39 L352.87,191.41 L353.56,191.43 L354.26,191.44 L354.96,191.46 L355.66,191.48 L356.36,191.49 L357.06,191.51 L357.76,191.52 L358.45,191.54 L359.15,191.56 L359.85,191.57 L360.55,191.59 L361.25,191.60 L361.95,191.62 L362.64,191.63" fill="none" stroke="#35b779" stroke-width="1.95" stroke-dasharray="1.75,2.04"/>
</g>
<rect x="311.30" y="118.80" width="46.8" height="32.0" rx="1.7" fill="#fff" fill-opacity="0.8" stroke="#cccccc" stroke-opacity="0.9" stroke-width="1.1"/>
<line x1="314.60" y1="126.20" x2="327.50" y2="126.20" stroke="#440154" stroke-width="1.65"/>
<text x="334.20" y="129.20" font-size="8.6">2 h</text>
<line x1="314.60" y1="134.55" x2="327.50" y2="134.55" stroke="#31688e" stroke-width="1.65" stroke-dasharray="9.14,2.29,1.43,2.29"/>
<text x="334.20" y="137.55" font-size="8.6">18 h</text>
<line x1="314.60" y1="142.90" x2="327.50" y2="142.90" stroke="#35b779" stroke-width="1.95" stroke-dasharray="1.75,2.04"/>
<text x="334.20" y="145.90" font-size="8.6">bake</text>
<line x1="243.90" y1="194.2" x2="243.90" y2="199.20" stroke="#000" stroke-width="1.2"/>
<text x="243.90" y="211.40" font-size="8.6" text-anchor="middle">0.0</text>
<line x1="271.84" y1="194.2" x2="271.84" y2="199.20" stroke="#000" stroke-width="1.2"/>
<text x="271.84" y="211.40" font-size="8.6" text-anchor="middle">0.2</text>
<line x1="299.78" y1="194.2" x2="299.78" y2="199.20" stroke="#000" stroke-width="1.2"/>
<text x="299.78" y="211.40" font-size="8.6" text-anchor="middle">0.4</text>
<line x1="327.72" y1="194.2" x2="327.72" y2="199.20" stroke="#000" stroke-width="1.2"/>
<text x="327.72" y="211.40" font-size="8.6" text-anchor="middle">0.6</text>
<line x1="355.66" y1="194.2" x2="355.66" y2="199.20" stroke="#000" stroke-width="1.2"/>
<text x="355.66" y="211.40" font-size="8.6" text-anchor="middle">0.8</text>
<line x1="232.00" y1="172.15" x2="237.0" y2="172.15" stroke="#000" stroke-width="1.2"/>
<text x="227.00" y="175.75" font-size="8.6" text-anchor="end">0.2</text>
<line x1="232.00" y1="147.75" x2="237.0" y2="147.75" stroke="#000" stroke-width="1.2"/>
<text x="227.00" y="151.35" font-size="8.6" text-anchor="end">0.4</text>
<line x1="232.00" y1="123.35" x2="237.0" y2="123.35" stroke="#000" stroke-width="1.2"/>
<text x="227.00" y="126.95" font-size="8.6" text-anchor="end">0.6</text>
<rect x="237.0" y="114.8" width="125.7" height="79.39999999999999" fill="none" stroke="#000" stroke-width="1.3"/>
<line x1="440.22" y1="19.3" x2="440.22" y2="98.3" stroke="#7a7a7a" stroke-width="0.9" stroke-dasharray="0.9,1.25"/>
<line x1="482.13" y1="19.3" x2="482.13" y2="98.3" stroke="#7a7a7a" stroke-width="0.9" stroke-dasharray="0.9,1.25"/>
<line x1="524.04" y1="19.3" x2="524.04" y2="98.3" stroke="#7a7a7a" stroke-width="0.9" stroke-dasharray="0.9,1.25"/>
<g clip-path="url(#c20)">
<path d="M432.54,29.10 L433.93,29.17 L434.63,29.25 L435.33,29.34 L436.03,29.43 L436.73,29.53 L437.43,29.63 L438.12,29.73 L438.82,29.84 L439.52,29.96 L440.22,30.08 L440.92,30.20 L441.62,30.34 L442.32,30.49 L443.01,30.64 L443.71,30.80 L444.41,30.96 L445.11,31.12 L445.81,31.28 L446.51,31.42 L447.20,31.56 L447.90,31.69 L448.60,31.83 L449.30,31.96 L450.00,32.09 L450.70,32.22 L451.40,32.34 L452.09,32.46 L452.79,32.56 L453.49,32.66 L454.19,32.74 L454.89,32.81 L455.59,32.88 L456.29,32.95 L456.98,33.02 L457.68,33.08 L458.38,33.15 L459.08,33.21 L459.78,33.26 L460.48,33.32 L461.18,33.37 L461.87,33.42 L462.57,33.47 L463.27,33.51 L463.97,33.55 L464.67,33.59 L465.37,33.63 L466.06,33.66 L466.76,33.69 L467.46,33.72 L468.16,33.74 L468.86,33.76 L469.56,33.79 L470.26,33.81 L470.95,33.83 L471.65,33.85 L472.35,33.88 L473.05,33.89 L473.75,33.91 L474.45,33.93 L475.14,33.94 L475.84,33.94 L476.54,33.95 L477.24,33.94 L477.94,33.93 L478.64,33.92 L479.34,33.91 L480.03,33.90 L480.73,33.89 L481.43,33.88 L482.13,33.87 L482.83,33.86 L483.53,33.85 L484.23,33.84 L484.92,33.83 L485.62,33.83 L486.32,33.82 L487.02,33.81 L487.72,33.80 L488.42,33.80 L489.12,33.79 L489.81,33.78 L490.51,33.76 L491.21,33.73 L491.91,33.69 L492.61,33.65 L493.31,33.61 L494.00,33.55 L494.70,33.50 L495.40,33.44 L496.10,33.38 L496.80,33.32 L497.50,33.26 L498.20,33.20 L498.89,33.14 L499.59,33.09 L500.29,33.04 L500.99,32.99 L501.69,32.94 L502.39,32.88 L503.08,32.83 L503.78,32.78 L504.48,32.73 L505.18,32.68 L505.88,32.63 L506.58,32.58 L507.28,32.53 L507.97,32.47 L508.67,32.42 L509.37,32.37 L510.07,32.32 L510.77,32.26 L511.47,32.21 L512.17,32.16 L512.86,32.10 L513.56,32.05 L514.26,32.00 L514.96,31.95 L515.66,31.89 L516.36,31.84 L517.05,31.78 L517.75,31.73 L518.45,31.68 L519.15,31.62 L519.85,31.57 L520.55,31.52 L521.25,31.46 L521.94,31.41 L522.64,31.36 L523.34,31.30 L524.04,31.25 L524.74,31.19 L525.44,31.14 L526.14,31.08 L526.83,31.03 L527.53,30.97 L528.23,30.92 L528.93,30.86 L529.63,30.80 L530.33,30.75 L531.02,30.69 L531.72,30.63 L532.42,30.57 L533.12,30.51 L533.82,30.46 L534.52,30.40 L535.22,30.34 L535.91,30.28 L536.61,30.22 L537.31,30.16 L538.01,30.10 L538.71,30.04 L539.41,29.98 L540.11,29.92 L540.80,29.86 L541.50,29.80 L542.20,29.74 L542.90,29.68 L543.60,29.62 L544.30,29.56 L545.00,29.50 L545.00,39.57 L544.30,39.70 L543.60,39.84 L542.90,39.97 L542.20,40.10 L541.50,40.23 L540.80,40.36 L540.11,40.48 L539.41,40.61 L538.71,40.73 L538.01,40.85 L537.31,40.97 L536.61,41.09 L535.91,41.21 L535.22,41.33 L534.52,41.44 L533.82,41.56 L533.12,41.67 L532.42,41.78 L531.72,41.89 L531.02,42.00 L530.33,42.10 L529.63,42.21 L528.93,42.31 L528.23,42.41 L527.53,42.51 L526.83,42.61 L526.14,42.71 L525.44,42.80 L524.74,42.90 L524.04,42.99 L523.34,43.08 L522.64,43.17 L521.94,43.26 L521.25,43.35 L520.55,43.44 L519.85,43.52 L519.15,43.61 L518.45,43.69 L517.75,43.77 L517.05,43.86 L516.36,43.94 L515.66,44.02 L514.96,44.10 L514.26,44.17 L513.56,44.25 L512.86,44.33 L512.17,44.40 L511.47,44.48 L510.77,44.55 L510.07,44.62 L509.37,44.69 L508.67,44.76 L507.97,44.83 L507.28,44.90 L506.58,44.97 L505.88,45.04 L505.18,45.10 L504.48,45.17 L503.78,45.23 L503.08,45.29 L502.39,45.36 L501.69,45.42 L500.99,45.48 L500.29,45.54 L499.59,45.60 L498.89,45.66 L498.20,45.73 L497.50,45.79 L496.80,45.86 L496.10,45.93 L495.40,45.99 L494.70,46.05 L494.00,46.11 L493.31,46.17 L492.61,46.22 L491.91,46.26 L491.21,46.30 L490.51,46.33 L489.81,46.35 L489.12,46.36 L488.42,46.36 L487.72,46.37 L487.02,46.37 L486.32,46.37 L485.62,46.37 L484.92,46.36 L484.23,46.36 L483.53,46.35 L482.83,46.34 L482.13,46.33 L481.43,46.32 L480.73,46.30 L480.03,46.29 L479.34,46.27 L478.64,46.25 L477.94,46.23 L477.24,46.20 L476.54,46.16 L475.84,46.12 L475.14,46.08 L474.45,46.02 L473.75,45.96 L473.05,45.90 L472.35,45.83 L471.65,45.76 L470.95,45.69 L470.26,45.61 L469.56,45.53 L468.86,45.45 L468.16,45.37 L467.46,45.29 L466.76,45.20 L466.06,45.11 L465.37,45.01 L464.67,44.91 L463.97,44.80 L463.27,44.69 L462.57,44.57 L461.87,44.45 L461.18,44.32 L460.48,44.19 L459.78,44.06 L459.08,43.92 L458.38,43.78 L457.68,43.64 L456.98,43.49 L456.29,43.34 L455.59,43.18 L454.89,43.02 L454.19,42.86 L453.49,42.69 L452.79,42.50 L452.09,42.30 L451.40,42.10 L450.70,41.88 L450.00,41.65 L449.30,41.42 L448.60,41.19 L447.90,40.95 L447.20,40.72 L446.51,40.48 L445.81,40.23 L445.11,39.97 L444.41,39.70 L443.71,39.43 L443.01,39.17 L442.32,38.90 L441.62,38.64 L440.92,38.39 L440.22,38.15 L439.52,37.92 L438.82,37.69 L438.12,37.47 L437.43,37.25 L436.73,37.03 L436.03,36.81 L435.33,36.60 L434.63,36.40 L433.93,36.20 L432.54,36.00Z" fill="#440154" fill-opacity="0.2"/>
<path d="M433.24,29.46 L433.93,29.54 L434.63,29.62 L435.33,29.70 L436.03,29.79 L436.73,29.89 L437.43,29.99 L438.12,30.10 L438.82,30.21 L439.52,30.32 L440.22,30.44 L440.92,30.56 L441.62,30.70 L442.32,30.85 L443.01,31.01 L443.71,31.17 L444.41,31.33 L445.11,31.48 L445.81,31.64 L446.51,31.78 L447.20,31.92 L447.90,32.05 L448.60,32.19 L449.30,32.32 L450.00,32.46 L450.70,32.58 L451.40,32.71 L452.09,32.82 L452.79,32.93 L453.49,33.02 L454.19,33.10 L454.89,33.17 L455.59,33.24 L456.29,33.31 L456.98,33.38 L457.68,33.44 L458.38,33.51 L459.08,33.57 L459.78,33.63 L460.48,33.68 L461.18,33.73 L461.87,33.78 L462.57,33.83 L463.27,33.88 L463.97,33.92 L464.67,33.96 L465.37,33.99 L466.06,34.02 L466.76,34.05 L467.46,34.08 L468.16,34.10 L468.86,34.13 L469.56,34.15 L470.26,34.17 L470.95,34.19 L471.65,34.22 L472.35,34.24 L473.05,34.26 L473.75,34.27 L474.45,34.29 L475.14,34.30 L475.84,34.31 L476.54,34.31 L477.24,34.31 L477.94,34.30 L478.64,34.29 L479.34,34.27 L480.03,34.26 L480.73,34.25 L481.43,34.24 L482.13,34.23 L482.83,34.22 L483.53,34.21 L484.23,34.21 L484.92,34.20 L485.62,34.19 L486.32,34.18 L487.02,34.17 L487.72,34.17 L488.42,34.16 L489.12,34.15 L489.81,34.14 L490.51,34.12 L491.21,34.09 L491.91,34.06 L492.61,34.02 L493.31,33.97 L494.00,33.92 L494.70,33.86 L495.40,33.80 L496.10,33.74 L496.80,33.68 L497.50,33.62 L498.20,33.56 L498.89,33.51 L499.59,33.45 L500.29,33.40 L500.99,33.35 L501.69,33.30 L502.39,33.25 L503.08,33.20 L503.78,33.15 L504.48,33.09 L505.18,33.04 L505.88,32.99 L506.58,32.94 L507.28,32.89 L507.97,32.84 L508.67,32.78 L509.37,32.73 L510.07,32.68 L510.77,32.63 L511.47,32.57 L512.17,32.52 L512.86,32.47 L513.56,32.41 L514.26,32.36 L514.96,32.31 L515.66,32.25 L516.36,32.20 L517.05,32.15 L517.75,32.09 L518.45,32.04 L519.15,31.99 L519.85,31.93 L520.55,31.88 L521.25,31.82 L521.94,31.77 L522.64,31.72 L523.34,31.66 L524.04,31.61 L524.74,31.56 L525.44,31.50 L526.14,31.45 L526.83,31.39 L527.53,31.34 L528.23,31.28 L528.93,31.22 L529.63,31.17 L530.33,31.11 L531.02,31.05 L531.72,30.99 L532.42,30.94 L533.12,30.88 L533.82,30.82 L534.52,30.76 L535.22,30.70 L535.91,30.64 L536.61,30.58 L537.31,30.52 L538.01,30.46 L538.71,30.40 L539.41,30.34 L540.11,30.28 L540.80,30.22 L541.50,30.16 L542.20,30.10 L542.90,30.04 L543.60,29.98 L544.30,29.92 L545.00,29.86 L545.00,39.20 L544.30,39.34 L543.60,39.47 L542.90,39.60 L542.20,39.74 L541.50,39.86 L540.80,39.99 L540.11,40.12 L539.41,40.24 L538.71,40.37 L538.01,40.49 L537.31,40.61 L536.61,40.73 L535.91,40.85 L535.22,40.97 L534.52,41.08 L533.82,41.19 L533.12,41.31 L532.42,41.42 L531.72,41.53 L531.02,41.63 L530.33,41.74 L529.63,41.84 L528.93,41.95 L528.23,42.05 L527.53,42.15 L526.83,42.25 L526.14,42.35 L525.44,42.44 L524.74,42.54 L524.04,42.63 L523.34,42.72 L522.64,42.81 L521.94,42.90 L521.25,42.99 L520.55,43.07 L519.85,43.16 L519.15,43.24 L518.45,43.33 L517.75,43.41 L517.05,43.49 L516.36,43.58 L515.66,43.66 L514.96,43.73 L514.26,43.81 L513.56,43.89 L512.86,43.97 L512.17,44.04 L511.47,44.12 L510.77,44.19 L510.07,44.26 L509.37,44.33 L508.67,44.40 L507.97,44.47 L507.28,44.54 L506.58,44.61 L505.88,44.67 L505.18,44.74 L504.48,44.80 L503.78,44.87 L503.08,44.93 L502.39,44.99 L501.69,45.05 L500.99,45.12 L500.29,45.17 L499.59,45.23 L498.89,45.30 L498.20,45.36 L497.50,45.43 L496.80,45.50 L496.10,45.56 L495.40,45.63 L494.70,45.69 L494.00,45.75 L493.31,45.80 L492.61,45.85 L491.91,45.90 L491.21,45.93 L490.51,45.96 L489.81,45.98 L489.12,46.00 L488.42,46.00 L487.72,46.00 L487.02,46.01 L486.32,46.01 L485.62,46.00 L484.92,46.00 L484.23,46.00 L483.53,45.99 L482.83,45.98 L482.13,45.97 L481.43,45.95 L480.73,45.94 L480.03,45.92 L479.34,45.91 L478.64,45.89 L477.94,45.86 L477.24,45.84 L476.54,45.80 L475.84,45.76 L475.14,45.71 L474.45,45.66 L473.75,45.60 L473.05,45.54 L472.35,45.47 L471.65,45.40 L470.95,45.33 L470.26,45.25 L469.56,45.17 L468.86,45.09 L468.16,45.01 L467.46,44.93 L466.76,44.84 L466.06,44.75 L465.37,44.65 L464.67,44.54 L463.97,44.44 L463.27,44.32 L462.57,44.21 L461.87,44.09 L461.18,43.96 L460.48,43.83 L459.78,43.70 L459.08,43.56 L458.38,43.42 L457.68,43.28 L456.98,43.13 L456.29,42.98 L455.59,42.82 L454.89,42.66 L454.19,42.50 L453.49,42.33 L452.79,42.14 L452.09,41.94 L451.40,41.73 L450.70,41.51 L450.00,41.29 L449.30,41.06 L448.60,40.82 L447.90,40.59 L447.20,40.35 L446.51,40.11 L445.81,39.86 L445.11,39.60 L444.41,39.34 L443.71,39.07 L443.01,38.80 L442.32,38.54 L441.62,38.28 L440.92,38.03 L440.22,37.79 L439.52,37.56 L438.82,37.33 L438.12,37.10 L437.43,36.88 L436.73,36.66 L436.03,36.45 L435.33,36.24 L434.63,36.03 L433.93,35.83 L433.24,35.64Z" fill="#440154" fill-opacity="0.03" stroke="#440154" stroke-opacity="0.6" stroke-width="0.6"/>
<path d="M433.24,30.82 L433.93,30.89 L434.63,30.98 L435.33,31.06 L436.03,31.15 L436.73,31.25 L437.43,31.35 L438.12,31.45 L438.82,31.56 L439.52,31.68 L440.22,31.80 L440.92,31.92 L441.62,32.06 L442.32,32.21 L443.01,32.37 L443.71,32.52 L444.41,32.68 L445.11,32.84 L445.81,33.00 L446.51,33.14 L447.20,33.28 L447.90,33.41 L448.60,33.55 L449.30,33.68 L450.00,33.81 L450.70,33.94 L451.40,34.06 L452.09,34.18 L452.79,34.28 L453.49,34.38 L454.19,34.46 L454.89,34.53 L455.59,34.60 L456.29,34.67 L456.98,34.74 L457.68,34.80 L458.38,34.87 L459.08,34.93 L459.78,34.98 L460.48,35.04 L461.18,35.09 L461.87,35.14 L462.57,35.19 L463.27,35.23 L463.97,35.28 L464.67,35.31 L465.37,35.35 L466.06,35.38 L466.76,35.41 L467.46,35.44 L468.16,35.46 L468.86,35.48 L469.56,35.51 L470.26,35.53 L470.95,35.55 L471.65,35.57 L472.35,35.60 L473.05,35.62 L473.75,35.63 L474.45,35.65 L475.14,35.66 L475.84,35.66 L476.54,35.67 L477.24,35.66 L477.94,35.66 L478.64,35.64 L479.34,35.63 L480.03,35.62 L480.73,35.61 L481.43,35.60 L482.13,35.59 L482.83,35.58 L483.53,35.57 L484.23,35.56 L484.92,35.56 L485.62,35.55 L486.32,35.54 L487.02,35.53 L487.72,35.52 L488.42,35.52 L489.12,35.51 L489.81,35.50 L490.51,35.48 L491.21,35.45 L491.91,35.42 L492.61,35.37 L493.31,35.33 L494.00,35.28 L494.70,35.22 L495.40,35.16 L496.10,35.10 L496.80,35.04 L497.50,34.98 L498.20,34.92 L498.89,34.86 L499.59,34.81 L500.29,34.76 L500.99,34.71 L501.69,34.66 L502.39,34.60 L503.08,34.55 L503.78,34.50 L504.48,34.45 L505.18,34.40 L505.88,34.35 L506.58,34.30 L507.28,34.25 L507.97,34.19 L508.67,34.14 L509.37,34.09 L510.07,34.04 L510.77,33.98 L511.47,33.93 L512.17,33.88 L512.86,33.83 L513.56,33.77 L514.26,33.72 L514.96,33.67 L515.66,33.61 L516.36,33.56 L517.05,33.51 L517.75,33.45 L518.45,33.40 L519.15,33.34 L519.85,33.29 L520.55,33.24 L521.25,33.18 L521.94,33.13 L522.64,33.08 L523.34,33.02 L524.04,32.97 L524.74,32.91 L525.44,32.86 L526.14,32.80 L526.83,32.75 L527.53,32.69 L528.23,32.64 L528.93,32.58 L529.63,32.52 L530.33,32.47 L531.02,32.41 L531.72,32.35 L532.42,32.29 L533.12,32.24 L533.82,32.18 L534.52,32.12 L535.22,32.06 L535.91,32.00 L536.61,31.94 L537.31,31.88 L538.01,31.82 L538.71,31.76 L539.41,31.70 L540.11,31.64 L540.80,31.58 L541.50,31.52 L542.20,31.46 L542.90,31.40 L543.60,31.34 L544.30,31.28 L545.00,31.22 L545.00,37.85 L544.30,37.98 L543.60,38.11 L542.90,38.25 L542.20,38.38 L541.50,38.51 L540.80,38.63 L540.11,38.76 L539.41,38.89 L538.71,39.01 L538.01,39.13 L537.31,39.25 L536.61,39.37 L535.91,39.49 L535.22,39.61 L534.52,39.72 L533.82,39.84 L533.12,39.95 L532.42,40.06 L531.72,40.17 L531.02,40.28 L530.33,40.38 L529.63,40.49 L528.93,40.59 L528.23,40.69 L527.53,40.79 L526.83,40.89 L526.14,40.99 L525.44,41.08 L524.74,41.18 L524.04,41.27 L523.34,41.36 L522.64,41.45 L521.94,41.54 L521.25,41.63 L520.55,41.72 L519.85,41.80 L519.15,41.89 L518.45,41.97 L517.75,42.05 L517.05,42.14 L516.36,42.22 L515.66,42.30 L514.96,42.38 L514.26,42.45 L513.56,42.53 L512.86,42.61 L512.17,42.68 L511.47,42.76 L510.77,42.83 L510.07,42.90 L509.37,42.97 L508.67,43.04 L507.97,43.11 L507.28,43.18 L506.58,43.25 L505.88,43.32 L505.18,43.38 L504.48,43.45 L503.78,43.51 L503.08,43.57 L502.39,43.64 L501.69,43.70 L500.99,43.76 L500.29,43.82 L499.59,43.88 L498.89,43.94 L498.20,44.01 L497.50,44.07 L496.80,44.14 L496.10,44.21 L495.40,44.27 L494.70,44.33 L494.00,44.39 L493.31,44.45 L492.61,44.50 L491.91,44.54 L491.21,44.58 L490.51,44.61 L489.81,44.63 L489.12,44.64 L488.42,44.64 L487.72,44.65 L487.02,44.65 L486.32,44.65 L485.62,44.65 L484.92,44.64 L484.23,44.64 L483.53,44.63 L482.83,44.62 L482.13,44.61 L481.43,44.60 L480.73,44.58 L480.03,44.57 L479.34,44.55 L478.64,44.53 L477.94,44.51 L477.24,44.48 L476.54,44.44 L475.84,44.40 L475.14,44.36 L474.45,44.30 L473.75,44.24 L473.05,44.18 L472.35,44.11 L471.65,44.04 L470.95,43.97 L470.26,43.89 L469.56,43.81 L468.86,43.73 L468.16,43.65 L467.46,43.57 L466.76,43.48 L466.06,43.39 L465.37,43.29 L464.67,43.19 L463.97,43.08 L463.27,42.97 L462.57,42.85 L461.87,42.73 L461.18,42.60 L460.48,42.47 L459.78,42.34 L459.08,42.20 L458.38,42.06 L457.68,41.92 L456.98,41.77 L456.29,41.62 L455.59,41.46 L454.89,41.30 L454.19,41.14 L453.49,40.97 L452.79,40.78 L452.09,40.58 L451.40,40.37 L450.70,40.16 L450.00,39.93 L449.30,39.70 L448.60,39.47 L447.90,39.23 L447.20,39.00 L446.51,38.76 L445.81,38.50 L445.11,38.25 L444.41,37.98 L443.71,37.71 L443.01,37.45 L442.32,37.18 L441.62,36.92 L440.92,36.67 L440.22,36.43 L439.52,36.20 L438.82,35.97 L438.12,35.75 L437.43,35.52 L436.73,35.31 L436.03,35.09 L435.33,34.88 L434.63,34.68 L433.93,34.48 L433.24,34.28Z" fill="#440154" fill-opacity="0.03" stroke="#440154" stroke-opacity="0.6" stroke-width="0.6"/>
<path d="M432.54,26.09 L433.93,26.20 L434.63,26.30 L435.33,26.42 L436.03,26.53 L436.73,26.65 L437.43,26.78 L438.12,26.91 L438.82,27.05 L439.52,27.19 L440.22,27.33 L440.92,27.48 L441.62,27.64 L442.32,27.82 L443.01,28.00 L443.71,28.18 L444.41,28.36 L445.11,28.54 L445.81,28.72 L446.51,28.89 L447.20,29.05 L447.90,29.20 L448.60,29.36 L449.30,29.52 L450.00,29.67 L450.70,29.82 L451.40,29.96 L452.09,30.10 L452.79,30.22 L453.49,30.34 L454.19,30.44 L454.89,30.53 L455.59,30.62 L456.29,30.70 L456.98,30.79 L457.68,30.87 L458.38,30.95 L459.08,31.03 L459.78,31.10 L460.48,31.17 L461.18,31.24 L461.87,31.31 L462.57,31.37 L463.27,31.43 L463.97,31.49 L464.67,31.54 L465.37,31.59 L466.06,31.64 L466.76,31.68 L467.46,31.72 L468.16,31.76 L468.86,31.79 L469.56,31.82 L470.26,31.86 L470.95,31.89 L471.65,31.93 L472.35,31.96 L473.05,31.99 L473.75,32.01 L474.45,32.04 L475.14,32.06 L475.84,32.07 L476.54,32.08 L477.24,32.09 L477.94,32.09 L478.64,32.08 L479.34,32.08 L480.03,32.07 L480.73,32.07 L481.43,32.06 L482.13,32.06 L482.83,32.05 L483.53,32.05 L484.23,32.04 L484.92,32.03 L485.62,32.03 L486.32,32.02 L487.02,32.02 L487.72,32.01 L488.42,32.00 L489.12,32.00 L489.81,31.99 L490.51,31.97 L491.21,31.94 L491.91,31.90 L492.61,31.86 L493.31,31.81 L494.00,31.76 L494.70,31.70 L495.40,31.64 L496.10,31.58 L496.80,31.52 L497.50,31.46 L498.20,31.40 L498.89,31.33 L499.59,31.28 L500.29,31.22 L500.99,31.17 L501.69,31.12 L502.39,31.06 L503.08,31.01 L503.78,30.95 L504.48,30.90 L505.18,30.84 L505.88,30.79 L506.58,30.73 L507.28,30.68 L507.97,30.62 L508.67,30.56 L509.37,30.50 L510.07,30.45 L510.77,30.39 L511.47,30.33 L512.17,30.27 L512.86,30.21 L513.56,30.15 L514.26,30.09 L514.96,30.03 L515.66,29.97 L516.36,29.91 L517.05,29.85 L517.75,29.79 L518.45,29.72 L519.15,29.66 L519.85,29.60 L520.55,29.54 L521.25,29.47 L521.94,29.41 L522.64,29.34 L523.34,29.28 L524.04,29.22 L524.74,29.15 L525.44,29.09 L526.14,29.02 L526.83,28.95 L527.53,28.88 L528.23,28.82 L528.93,28.75 L529.63,28.68 L530.33,28.61 L531.02,28.53 L531.72,28.46 L532.42,28.39 L533.12,28.32 L533.82,28.24 L534.52,28.17 L535.22,28.09 L535.91,28.02 L536.61,27.94 L537.31,27.87 L538.01,27.79 L538.71,27.71 L539.41,27.64 L540.11,27.56 L540.80,27.48 L541.50,27.40 L542.20,27.32 L542.90,27.24 L543.60,27.16 L544.30,27.08 L545.00,27.00 L545.00,40.38 L544.30,40.49 L543.60,40.60 L542.90,40.71 L542.20,40.82 L541.50,40.93 L540.80,41.04 L540.11,41.14 L539.41,41.25 L538.71,41.35 L538.01,41.46 L537.31,41.56 L536.61,41.66 L535.91,41.76 L535.22,41.86 L534.52,41.96 L533.82,42.06 L533.12,42.16 L532.42,42.25 L531.72,42.35 L531.02,42.44 L530.33,42.54 L529.63,42.63 L528.93,42.72 L528.23,42.81 L527.53,42.90 L526.83,42.99 L526.14,43.07 L525.44,43.16 L524.74,43.24 L524.04,43.33 L523.34,43.41 L522.64,43.49 L521.94,43.57 L521.25,43.65 L520.55,43.73 L519.85,43.81 L519.15,43.89 L518.45,43.96 L517.75,44.04 L517.05,44.12 L516.36,44.19 L515.66,44.27 L514.96,44.34 L514.26,44.41 L513.56,44.49 L512.86,44.56 L512.17,44.63 L511.47,44.70 L510.77,44.77 L510.07,44.84 L509.37,44.91 L508.67,44.97 L507.97,45.04 L507.28,45.11 L506.58,45.17 L505.88,45.23 L505.18,45.30 L504.48,45.36 L503.78,45.42 L503.08,45.48 L502.39,45.55 L501.69,45.61 L500.99,45.66 L500.29,45.72 L499.59,45.78 L498.89,45.85 L498.20,45.91 L497.50,45.98 L496.80,46.04 L496.10,46.11 L495.40,46.17 L494.70,46.23 L494.00,46.29 L493.31,46.35 L492.61,46.40 L491.91,46.44 L491.21,46.48 L490.51,46.51 L489.81,46.53 L489.12,46.54 L488.42,46.54 L487.72,46.55 L487.02,46.55 L486.32,46.56 L485.62,46.56 L484.92,46.56 L484.23,46.56 L483.53,46.56 L482.83,46.56 L482.13,46.55 L481.43,46.55 L480.73,46.54 L480.03,46.54 L479.34,46.53 L478.64,46.52 L477.94,46.52 L477.24,46.50 L476.54,46.48 L475.84,46.46 L475.14,46.42 L474.45,46.39 L473.75,46.35 L473.05,46.30 L472.35,46.25 L471.65,46.20 L470.95,46.15 L470.26,46.09 L469.56,46.03 L468.86,45.98 L468.16,45.92 L467.46,45.86 L466.76,45.79 L466.06,45.72 L465.37,45.65 L464.67,45.57 L463.97,45.49 L463.27,45.41 L462.57,45.32 L461.87,45.22 L461.18,45.13 L460.48,45.03 L459.78,44.92 L459.08,44.82 L458.38,44.71 L457.68,44.59 L456.98,44.48 L456.29,44.36 L455.59,44.23 L454.89,44.11 L454.19,43.98 L453.49,43.84 L452.79,43.69 L452.09,43.53 L451.40,43.35 L450.70,43.17 L450.00,42.98 L449.30,42.79 L448.60,42.59 L447.90,42.39 L447.20,42.19 L446.51,41.99 L445.81,41.78 L445.11,41.56 L444.41,41.33 L443.71,41.11 L443.01,40.88 L442.32,40.65 L441.62,40.44 L440.92,40.23 L440.22,40.03 L439.52,39.84 L438.82,39.65 L438.12,39.47 L437.43,39.29 L436.73,39.11 L436.03,38.94 L435.33,38.77 L434.63,38.61 L433.93,38.45 L432.54,38.30Z" fill="#31688e" fill-opacity="0.25"/>
<path d="M433.24,26.46 L433.93,26.56 L434.63,26.66 L435.33,26.78 L436.03,26.89 L436.73,27.02 L437.43,27.14 L438.12,27.27 L438.82,27.41 L439.52,27.55 L440.22,27.69 L440.92,27.84 L441.62,28.01 L442.32,28.18 L443.01,28.36 L443.71,28.54 L444.41,28.72 L445.11,28.91 L445.81,29.08 L446.51,29.25 L447.20,29.41 L447.90,29.57 L448.60,29.72 L449.30,29.88 L450.00,30.03 L450.70,30.18 L451.40,30.32 L452.09,30.46 L452.79,30.58 L453.49,30.70 L454.19,30.80 L454.89,30.89 L455.59,30.98 L456.29,31.07 L456.98,31.15 L457.68,31.23 L458.38,31.31 L459.08,31.39 L459.78,31.46 L460.48,31.54 L461.18,31.61 L461.87,31.67 L462.57,31.73 L463.27,31.79 L463.97,31.85 L464.67,31.90 L465.37,31.95 L466.06,32.00 L466.76,32.04 L467.46,32.08 L468.16,32.12 L468.86,32.15 L469.56,32.19 L470.26,32.22 L470.95,32.26 L471.65,32.29 L472.35,32.32 L473.05,32.35 L473.75,32.38 L474.45,32.40 L475.14,32.42 L475.84,32.43 L476.54,32.44 L477.24,32.45 L477.94,32.45 L478.64,32.44 L479.34,32.44 L480.03,32.43 L480.73,32.43 L481.43,32.42 L482.13,32.42 L482.83,32.41 L483.53,32.41 L484.23,32.40 L484.92,32.40 L485.62,32.39 L486.32,32.38 L487.02,32.38 L487.72,32.37 L488.42,32.37 L489.12,32.36 L489.81,32.35 L490.51,32.33 L491.21,32.30 L491.91,32.26 L492.61,32.22 L493.31,32.17 L494.00,32.12 L494.70,32.06 L495.40,32.01 L496.10,31.94 L496.80,31.88 L497.50,31.82 L498.20,31.76 L498.89,31.70 L499.59,31.64 L500.29,31.58 L500.99,31.53 L501.69,31.48 L502.39,31.42 L503.08,31.37 L503.78,31.32 L504.48,31.26 L505.18,31.21 L505.88,31.15 L506.58,31.09 L507.28,31.04 L507.97,30.98 L508.67,30.92 L509.37,30.87 L510.07,30.81 L510.77,30.75 L511.47,30.69 L512.17,30.63 L512.86,30.57 L513.56,30.51 L514.26,30.45 L514.96,30.39 L515.66,30.33 L516.36,30.27 L517.05,30.21 L517.75,30.15 L518.45,30.09 L519.15,30.02 L519.85,29.96 L520.55,29.90 L521.25,29.83 L521.94,29.77 L522.64,29.71 L523.34,29.64 L524.04,29.58 L524.74,29.51 L525.44,29.45 L526.14,29.38 L526.83,29.31 L527.53,29.25 L528.23,29.18 L528.93,29.11 L529.63,29.04 L530.33,28.97 L531.02,28.90 L531.72,28.83 L532.42,28.75 L533.12,28.68 L533.82,28.61 L534.52,28.53 L535.22,28.46 L535.91,28.38 L536.61,28.31 L537.31,28.23 L538.01,28.15 L538.71,28.08 L539.41,28.00 L540.11,27.92 L540.80,27.84 L541.50,27.76 L542.20,27.68 L542.90,27.60 L543.60,27.52 L544.30,27.44 L545.00,27.36 L545.00,40.02 L544.30,40.13 L543.60,40.24 L542.90,40.35 L542.20,40.46 L541.50,40.57 L540.80,40.68 L540.11,40.78 L539.41,40.89 L538.71,40.99 L538.01,41.10 L537.31,41.20 L536.61,41.30 L535.91,41.40 L535.22,41.50 L534.52,41.60 L533.82,41.70 L533.12,41.80 L532.42,41.89 L531.72,41.99 L531.02,42.08 L530.33,42.17 L529.63,42.27 L528.93,42.36 L528.23,42.45 L527.53,42.54 L526.83,42.62 L526.14,42.71 L525.44,42.80 L524.74,42.88 L524.04,42.96 L523.34,43.05 L522.64,43.13 L521.94,43.21 L521.25,43.29 L520.55,43.37 L519.85,43.45 L519.15,43.52 L518.45,43.60 L517.75,43.68 L517.05,43.75 L516.36,43.83 L515.66,43.90 L514.96,43.98 L514.26,44.05 L513.56,44.12 L512.86,44.20 L512.17,44.27 L511.47,44.34 L510.77,44.41 L510.07,44.48 L509.37,44.54 L508.67,44.61 L507.97,44.68 L507.28,44.74 L506.58,44.81 L505.88,44.87 L505.18,44.94 L504.48,45.00 L503.78,45.06 L503.08,45.12 L502.39,45.18 L501.69,45.24 L500.99,45.30 L500.29,45.36 L499.59,45.42 L498.89,45.48 L498.20,45.55 L497.50,45.61 L496.80,45.68 L496.10,45.75 L495.40,45.81 L494.70,45.87 L494.00,45.93 L493.31,45.99 L492.61,46.03 L491.91,46.08 L491.21,46.12 L490.51,46.14 L489.81,46.17 L489.12,46.18 L488.42,46.18 L487.72,46.19 L487.02,46.19 L486.32,46.19 L485.62,46.20 L484.92,46.20 L484.23,46.20 L483.53,46.20 L482.83,46.19 L482.13,46.19 L481.43,46.19 L480.73,46.18 L480.03,46.18 L479.34,46.17 L478.64,46.16 L477.94,46.15 L477.24,46.14 L476.54,46.12 L475.84,46.09 L475.14,46.06 L474.45,46.03 L473.75,45.98 L473.05,45.94 L472.35,45.89 L471.65,45.84 L470.95,45.78 L470.26,45.73 L469.56,45.67 L468.86,45.61 L468.16,45.56 L467.46,45.50 L466.76,45.43 L466.06,45.36 L465.37,45.29 L464.67,45.21 L463.97,45.13 L463.27,45.04 L462.57,44.96 L461.87,44.86 L461.18,44.77 L460.48,44.67 L459.78,44.56 L459.08,44.45 L458.38,44.34 L457.68,44.23 L456.98,44.11 L456.29,43.99 L455.59,43.87 L454.89,43.75 L454.19,43.62 L453.49,43.48 L452.79,43.33 L452.09,43.16 L451.40,42.99 L450.70,42.81 L450.00,42.62 L449.30,42.42 L448.60,42.23 L447.90,42.03 L447.20,41.83 L446.51,41.63 L445.81,41.42 L445.11,41.20 L444.41,40.97 L443.71,40.74 L443.01,40.52 L442.32,40.29 L441.62,40.07 L440.92,39.86 L440.22,39.66 L439.52,39.47 L438.82,39.29 L438.12,39.10 L437.43,38.92 L436.73,38.75 L436.03,38.58 L435.33,38.41 L434.63,38.25 L433.93,38.09 L433.24,37.94Z" fill="#31688e" fill-opacity="0.03" stroke="#31688e" stroke-opacity="0.7" stroke-width="0.6"/>
<path d="M433.24,27.81 L433.93,27.92 L434.63,28.02 L435.33,28.14 L436.03,28.25 L436.73,28.38 L437.43,28.50 L438.12,28.63 L438.82,28.77 L439.52,28.91 L440.22,29.05 L440.92,29.20 L441.62,29.36 L442.32,29.54 L443.01,29.72 L443.71,29.90 L444.41,30.08 L445.11,30.26 L445.81,30.44 L446.51,30.61 L447.20,30.77 L447.90,30.92 L448.60,31.08 L449.30,31.24 L450.00,31.39 L450.70,31.54 L451.40,31.68 L452.09,31.82 L452.79,31.94 L453.49,32.06 L454.19,32.16 L454.89,32.25 L455.59,32.34 L456.29,32.42 L456.98,32.51 L457.68,32.59 L458.38,32.67 L459.08,32.75 L459.78,32.82 L460.48,32.89 L461.18,32.96 L461.87,33.03 L462.57,33.09 L463.27,33.15 L463.97,33.21 L464.67,33.26 L465.37,33.31 L466.06,33.36 L466.76,33.40 L467.46,33.44 L468.16,33.48 L468.86,33.51 L469.56,33.54 L470.26,33.58 L470.95,33.61 L471.65,33.65 L472.35,33.68 L473.05,33.71 L473.75,33.73 L474.45,33.76 L475.14,33.78 L475.84,33.79 L476.54,33.80 L477.24,33.81 L477.94,33.81 L478.64,33.80 L479.34,33.80 L480.03,33.79 L480.73,33.79 L481.43,33.78 L482.13,33.78 L482.83,33.77 L483.53,33.77 L484.23,33.76 L484.92,33.75 L485.62,33.75 L486.32,33.74 L487.02,33.74 L487.72,33.73 L488.42,33.72 L489.12,33.72 L489.81,33.71 L490.51,33.69 L491.21,33.66 L491.91,33.62 L492.61,33.58 L493.31,33.53 L494.00,33.48 L494.70,33.42 L495.40,33.36 L496.10,33.30 L496.80,33.24 L497.50,33.18 L498.20,33.12 L498.89,33.06 L499.59,33.00 L500.29,32.94 L500.99,32.89 L501.69,32.84 L502.39,32.78 L503.08,32.73 L503.78,32.67 L504.48,32.62 L505.18,32.56 L505.88,32.51 L506.58,32.45 L507.28,32.40 L507.97,32.34 L508.67,32.28 L509.37,32.22 L510.07,32.17 L510.77,32.11 L511.47,32.05 L512.17,31.99 L512.86,31.93 L513.56,31.87 L514.26,31.81 L514.96,31.75 L515.66,31.69 L516.36,31.63 L517.05,31.57 L517.75,31.51 L518.45,31.44 L519.15,31.38 L519.85,31.32 L520.55,31.26 L521.25,31.19 L521.94,31.13 L522.64,31.07 L523.34,31.00 L524.04,30.94 L524.74,30.87 L525.44,30.81 L526.14,30.74 L526.83,30.67 L527.53,30.60 L528.23,30.54 L528.93,30.47 L529.63,30.40 L530.33,30.33 L531.02,30.26 L531.72,30.18 L532.42,30.11 L533.12,30.04 L533.82,29.96 L534.52,29.89 L535.22,29.82 L535.91,29.74 L536.61,29.66 L537.31,29.59 L538.01,29.51 L538.71,29.43 L539.41,29.36 L540.11,29.28 L540.80,29.20 L541.50,29.12 L542.20,29.04 L542.90,28.96 L543.60,28.88 L544.30,28.80 L545.00,28.72 L545.00,38.66 L544.30,38.77 L543.60,38.88 L542.90,38.99 L542.20,39.10 L541.50,39.21 L540.80,39.32 L540.11,39.42 L539.41,39.53 L538.71,39.63 L538.01,39.74 L537.31,39.84 L536.61,39.94 L535.91,40.04 L535.22,40.14 L534.52,40.24 L533.82,40.34 L533.12,40.44 L532.42,40.53 L531.72,40.63 L531.02,40.72 L530.33,40.82 L529.63,40.91 L528.93,41.00 L528.23,41.09 L527.53,41.18 L526.83,41.27 L526.14,41.35 L525.44,41.44 L524.74,41.52 L524.04,41.61 L523.34,41.69 L522.64,41.77 L521.94,41.85 L521.25,41.93 L520.55,42.01 L519.85,42.09 L519.15,42.17 L518.45,42.24 L517.75,42.32 L517.05,42.40 L516.36,42.47 L515.66,42.55 L514.96,42.62 L514.26,42.69 L513.56,42.77 L512.86,42.84 L512.17,42.91 L511.47,42.98 L510.77,43.05 L510.07,43.12 L509.37,43.18 L508.67,43.25 L507.97,43.32 L507.28,43.38 L506.58,43.45 L505.88,43.51 L505.18,43.58 L504.48,43.64 L503.78,43.70 L503.08,43.76 L502.39,43.83 L501.69,43.88 L500.99,43.94 L500.29,44.00 L499.59,44.06 L498.89,44.12 L498.20,44.19 L497.50,44.26 L496.80,44.32 L496.10,44.39 L495.40,44.45 L494.70,44.51 L494.00,44.57 L493.31,44.63 L492.61,44.68 L491.91,44.72 L491.21,44.76 L490.51,44.79 L489.81,44.81 L489.12,44.82 L488.42,44.82 L487.72,44.83 L487.02,44.83 L486.32,44.84 L485.62,44.84 L484.92,44.84 L484.23,44.84 L483.53,44.84 L482.83,44.84 L482.13,44.83 L481.43,44.83 L480.73,44.82 L480.03,44.82 L479.34,44.81 L478.64,44.80 L477.94,44.79 L477.24,44.78 L476.54,44.76 L475.84,44.74 L475.14,44.70 L474.45,44.67 L473.75,44.63 L473.05,44.58 L472.35,44.53 L471.65,44.48 L470.95,44.43 L470.26,44.37 L469.56,44.31 L468.86,44.26 L468.16,44.20 L467.46,44.14 L466.76,44.07 L466.06,44.00 L465.37,43.93 L464.67,43.85 L463.97,43.77 L463.27,43.69 L462.57,43.60 L461.87,43.50 L461.18,43.41 L460.48,43.31 L459.78,43.20 L459.08,43.10 L458.38,42.99 L457.68,42.87 L456.98,42.76 L456.29,42.64 L455.59,42.51 L454.89,42.39 L454.19,42.26 L453.49,42.12 L452.79,41.97 L452.09,41.81 L451.40,41.63 L450.70,41.45 L450.00,41.26 L449.30,41.07 L448.60,40.87 L447.90,40.67 L447.20,40.47 L446.51,40.27 L445.81,40.06 L445.11,39.84 L444.41,39.61 L443.71,39.38 L443.01,39.16 L442.32,38.93 L441.62,38.71 L440.92,38.50 L440.22,38.31 L439.52,38.12 L438.82,37.93 L438.12,37.75 L437.43,37.57 L436.73,37.39 L436.03,37.22 L435.33,37.05 L434.63,36.89 L433.93,36.73 L433.24,36.58Z" fill="#31688e" fill-opacity="0.03" stroke="#31688e" stroke-opacity="0.7" stroke-width="0.6"/>
<path d="M432.54,24.41 L433.93,24.51 L434.63,24.61 L435.33,24.72 L436.03,24.84 L436.73,24.96 L437.43,25.08 L438.12,25.21 L438.82,25.34 L439.52,25.48 L440.22,25.62 L440.92,25.77 L441.62,25.92 L442.32,26.09 L443.01,26.27 L443.71,26.45 L444.41,26.62 L445.11,26.80 L445.81,26.97 L446.51,27.14 L447.20,27.29 L447.90,27.44 L448.60,27.59 L449.30,27.74 L450.00,27.89 L450.70,28.04 L451.40,28.17 L452.09,28.30 L452.79,28.42 L453.49,28.53 L454.19,28.63 L454.89,28.71 L455.59,28.80 L456.29,28.88 L456.98,28.96 L457.68,29.03 L458.38,29.11 L459.08,29.18 L459.78,29.25 L460.48,29.31 L461.18,29.38 L461.87,29.44 L462.57,29.50 L463.27,29.55 L463.97,29.60 L464.67,29.65 L465.37,29.69 L466.06,29.73 L466.76,29.77 L467.46,29.81 L468.16,29.84 L468.86,29.86 L469.56,29.89 L470.26,29.92 L470.95,29.95 L471.65,29.98 L472.35,30.01 L473.05,30.03 L473.75,30.06 L474.45,30.07 L475.14,30.09 L475.84,30.10 L476.54,30.11 L477.24,30.11 L477.94,30.10 L478.64,30.10 L479.34,30.09 L480.03,30.08 L480.73,30.07 L481.43,30.07 L482.13,30.06 L482.83,30.05 L483.53,30.04 L484.23,30.04 L484.92,30.03 L485.62,30.02 L486.32,30.01 L487.02,30.01 L487.72,30.00 L488.42,29.99 L489.12,29.99 L489.81,29.98 L490.51,29.95 L491.21,29.93 L491.91,29.89 L492.61,29.84 L493.31,29.79 L494.00,29.74 L494.70,29.68 L495.40,29.62 L496.10,29.56 L496.80,29.49 L497.50,29.42 L498.20,29.36 L498.89,29.30 L499.59,29.23 L500.29,29.17 L500.99,29.12 L501.69,29.06 L502.39,29.00 L503.08,28.94 L503.78,28.88 L504.48,28.82 L505.18,28.76 L505.88,28.70 L506.58,28.63 L507.28,28.57 L507.97,28.50 L508.67,28.44 L509.37,28.38 L510.07,28.31 L510.77,28.24 L511.47,28.18 L512.17,28.11 L512.86,28.04 L513.56,27.97 L514.26,27.90 L514.96,27.83 L515.66,27.76 L516.36,27.69 L517.05,27.62 L517.75,27.55 L518.45,27.48 L519.15,27.41 L519.85,27.33 L520.55,27.26 L521.25,27.19 L521.94,27.11 L522.64,27.04 L523.34,26.96 L524.04,26.89 L524.74,26.81 L525.44,26.74 L526.14,26.66 L526.83,26.58 L527.53,26.50 L528.23,26.42 L528.93,26.34 L529.63,26.26 L530.33,26.17 L531.02,26.09 L531.72,26.01 L532.42,25.92 L533.12,25.84 L533.82,25.75 L534.52,25.66 L535.22,25.58 L535.91,25.49 L536.61,25.40 L537.31,25.31 L538.01,25.22 L538.71,25.13 L539.41,25.04 L540.11,24.95 L540.80,24.86 L541.50,24.77 L542.20,24.67 L542.90,24.58 L543.60,24.49 L544.30,24.39 L545.00,24.30 L545.00,41.03 L544.30,41.15 L543.60,41.26 L542.90,41.37 L542.20,41.48 L541.50,41.60 L540.80,41.70 L540.11,41.81 L539.41,41.92 L538.71,42.03 L538.01,42.13 L537.31,42.24 L536.61,42.34 L535.91,42.45 L535.22,42.55 L534.52,42.65 L533.82,42.75 L533.12,42.85 L532.42,42.95 L531.72,43.04 L531.02,43.14 L530.33,43.23 L529.63,43.33 L528.93,43.42 L528.23,43.51 L527.53,43.60 L526.83,43.69 L526.14,43.78 L525.44,43.86 L524.74,43.95 L524.04,44.03 L523.34,44.12 L522.64,44.20 L521.94,44.28 L521.25,44.36 L520.55,44.44 L519.85,44.52 L519.15,44.60 L518.45,44.68 L517.75,44.76 L517.05,44.83 L516.36,44.91 L515.66,44.98 L514.96,45.06 L514.26,45.13 L513.56,45.20 L512.86,45.28 L512.17,45.35 L511.47,45.42 L510.77,45.49 L510.07,45.56 L509.37,45.63 L508.67,45.69 L507.97,45.76 L507.28,45.83 L506.58,45.89 L505.88,45.96 L505.18,46.02 L504.48,46.08 L503.78,46.15 L503.08,46.21 L502.39,46.27 L501.69,46.33 L500.99,46.39 L500.29,46.45 L499.59,46.51 L498.89,46.57 L498.20,46.63 L497.50,46.70 L496.80,46.77 L496.10,46.83 L495.40,46.90 L494.70,46.96 L494.00,47.02 L493.31,47.07 L492.61,47.12 L491.91,47.17 L491.21,47.20 L490.51,47.23 L489.81,47.25 L489.12,47.26 L488.42,47.27 L487.72,47.27 L487.02,47.28 L486.32,47.28 L485.62,47.28 L484.92,47.29 L484.23,47.29 L483.53,47.29 L482.83,47.29 L482.13,47.28 L481.43,47.28 L480.73,47.28 L480.03,47.27 L479.34,47.27 L478.64,47.26 L477.94,47.25 L477.24,47.24 L476.54,47.22 L475.84,47.20 L475.14,47.17 L474.45,47.14 L473.75,47.10 L473.05,47.05 L472.35,47.01 L471.65,46.96 L470.95,46.91 L470.26,46.85 L469.56,46.80 L468.86,46.74 L468.16,46.69 L467.46,46.63 L466.76,46.57 L466.06,46.50 L465.37,46.43 L464.67,46.36 L463.97,46.28 L463.27,46.20 L462.57,46.11 L461.87,46.02 L461.18,45.93 L460.48,45.83 L459.78,45.73 L459.08,45.63 L458.38,45.52 L457.68,45.41 L456.98,45.30 L456.29,45.18 L455.59,45.06 L454.89,44.94 L454.19,44.82 L453.49,44.68 L452.79,44.54 L452.09,44.38 L451.40,44.21 L450.70,44.03 L450.00,43.84 L449.30,43.65 L448.60,43.46 L447.90,43.27 L447.20,43.07 L446.51,42.87 L445.81,42.67 L445.11,42.45 L444.41,42.23 L443.71,42.00 L443.01,41.78 L442.32,41.56 L441.62,41.35 L440.92,41.14 L440.22,40.95 L439.52,40.76 L438.82,40.58 L438.12,40.40 L437.43,40.22 L436.73,40.05 L436.03,39.88 L435.33,39.72 L434.63,39.56 L433.93,39.41 L432.54,39.26Z" fill="#35b779" fill-opacity="0.2"/>
<path d="M433.24,24.77 L433.93,24.87 L434.63,24.98 L435.33,25.09 L436.03,25.20 L436.73,25.32 L437.43,25.44 L438.12,25.57 L438.82,25.70 L439.52,25.84 L440.22,25.98 L440.92,26.13 L441.62,26.29 L442.32,26.46 L443.01,26.63 L443.71,26.81 L444.41,26.99 L445.11,27.16 L445.81,27.34 L446.51,27.50 L447.20,27.66 L447.90,27.81 L448.60,27.96 L449.30,28.11 L450.00,28.25 L450.70,28.40 L451.40,28.54 L452.09,28.67 L452.79,28.79 L453.49,28.89 L454.19,28.99 L454.89,29.07 L455.59,29.16 L456.29,29.24 L456.98,29.32 L457.68,29.40 L458.38,29.47 L459.08,29.54 L459.78,29.61 L460.48,29.68 L461.18,29.74 L461.87,29.80 L462.57,29.86 L463.27,29.91 L463.97,29.96 L464.67,30.01 L465.37,30.05 L466.06,30.10 L466.76,30.13 L467.46,30.17 L468.16,30.20 L468.86,30.23 L469.56,30.26 L470.26,30.29 L470.95,30.32 L471.65,30.34 L472.35,30.37 L473.05,30.40 L473.75,30.42 L474.45,30.44 L475.14,30.45 L475.84,30.46 L476.54,30.47 L477.24,30.47 L477.94,30.47 L478.64,30.46 L479.34,30.45 L480.03,30.44 L480.73,30.44 L481.43,30.43 L482.13,30.42 L482.83,30.41 L483.53,30.40 L484.23,30.40 L484.92,30.39 L485.62,30.38 L486.32,30.38 L487.02,30.37 L487.72,30.36 L488.42,30.36 L489.12,30.35 L489.81,30.34 L490.51,30.32 L491.21,30.29 L491.91,30.25 L492.61,30.21 L493.31,30.16 L494.00,30.10 L494.70,30.04 L495.40,29.98 L496.10,29.92 L496.80,29.85 L497.50,29.79 L498.20,29.72 L498.89,29.66 L499.59,29.60 L500.29,29.54 L500.99,29.48 L501.69,29.42 L502.39,29.36 L503.08,29.30 L503.78,29.24 L504.48,29.18 L505.18,29.12 L505.88,29.06 L506.58,28.99 L507.28,28.93 L507.97,28.87 L508.67,28.80 L509.37,28.74 L510.07,28.67 L510.77,28.61 L511.47,28.54 L512.17,28.47 L512.86,28.40 L513.56,28.33 L514.26,28.27 L514.96,28.20 L515.66,28.13 L516.36,28.06 L517.05,27.99 L517.75,27.91 L518.45,27.84 L519.15,27.77 L519.85,27.70 L520.55,27.62 L521.25,27.55 L521.94,27.48 L522.64,27.40 L523.34,27.33 L524.04,27.25 L524.74,27.17 L525.44,27.10 L526.14,27.02 L526.83,26.94 L527.53,26.86 L528.23,26.78 L528.93,26.70 L529.63,26.62 L530.33,26.54 L531.02,26.45 L531.72,26.37 L532.42,26.28 L533.12,26.20 L533.82,26.11 L534.52,26.03 L535.22,25.94 L535.91,25.85 L536.61,25.76 L537.31,25.67 L538.01,25.58 L538.71,25.49 L539.41,25.40 L540.11,25.31 L540.80,25.22 L541.50,25.13 L542.20,25.04 L542.90,24.94 L543.60,24.85 L544.30,24.76 L545.00,24.66 L545.00,40.67 L544.30,40.79 L543.60,40.90 L542.90,41.01 L542.20,41.12 L541.50,41.23 L540.80,41.34 L540.11,41.45 L539.41,41.56 L538.71,41.67 L538.01,41.77 L537.31,41.88 L536.61,41.98 L535.91,42.08 L535.22,42.19 L534.52,42.29 L533.82,42.39 L533.12,42.49 L532.42,42.58 L531.72,42.68 L531.02,42.78 L530.33,42.87 L529.63,42.96 L528.93,43.06 L528.23,43.15 L527.53,43.24 L526.83,43.33 L526.14,43.41 L525.44,43.50 L524.74,43.59 L524.04,43.67 L523.34,43.75 L522.64,43.84 L521.94,43.92 L521.25,44.00 L520.55,44.08 L519.85,44.16 L519.15,44.24 L518.45,44.32 L517.75,44.39 L517.05,44.47 L516.36,44.55 L515.66,44.62 L514.96,44.70 L514.26,44.77 L513.56,44.84 L512.86,44.91 L512.17,44.99 L511.47,45.06 L510.77,45.13 L510.07,45.20 L509.37,45.26 L508.67,45.33 L507.97,45.40 L507.28,45.47 L506.58,45.53 L505.88,45.60 L505.18,45.66 L504.48,45.72 L503.78,45.78 L503.08,45.85 L502.39,45.91 L501.69,45.97 L500.99,46.03 L500.29,46.08 L499.59,46.14 L498.89,46.21 L498.20,46.27 L497.50,46.34 L496.80,46.40 L496.10,46.47 L495.40,46.53 L494.70,46.60 L494.00,46.65 L493.31,46.71 L492.61,46.76 L491.91,46.80 L491.21,46.84 L490.51,46.87 L489.81,46.89 L489.12,46.90 L488.42,46.91 L487.72,46.91 L487.02,46.92 L486.32,46.92 L485.62,46.92 L484.92,46.92 L484.23,46.92 L483.53,46.92 L482.83,46.92 L482.13,46.92 L481.43,46.92 L480.73,46.92 L480.03,46.91 L479.34,46.91 L478.64,46.90 L477.94,46.89 L477.24,46.88 L476.54,46.86 L475.84,46.84 L475.14,46.81 L474.45,46.77 L473.75,46.74 L473.05,46.69 L472.35,46.65 L471.65,46.60 L470.95,46.54 L470.26,46.49 L469.56,46.44 L468.86,46.38 L468.16,46.33 L467.46,46.27 L466.76,46.21 L466.06,46.14 L465.37,46.07 L464.67,46.00 L463.97,45.92 L463.27,45.84 L462.57,45.75 L461.87,45.66 L461.18,45.57 L460.48,45.47 L459.78,45.37 L459.08,45.27 L458.38,45.16 L457.68,45.05 L456.98,44.94 L456.29,44.82 L455.59,44.70 L454.89,44.58 L454.19,44.46 L453.49,44.32 L452.79,44.17 L452.09,44.01 L451.40,43.84 L450.70,43.67 L450.00,43.48 L449.30,43.29 L448.60,43.10 L447.90,42.90 L447.20,42.71 L446.51,42.51 L445.81,42.30 L445.11,42.09 L444.41,41.87 L443.71,41.64 L443.01,41.42 L442.32,41.20 L441.62,40.98 L440.92,40.78 L440.22,40.58 L439.52,40.40 L438.82,40.22 L438.12,40.04 L437.43,39.86 L436.73,39.69 L436.03,39.52 L435.33,39.36 L434.63,39.20 L433.93,39.05 L433.24,38.90Z" fill="#35b779" fill-opacity="0.03" stroke="#35b779" stroke-opacity="0.45" stroke-width="0.6"/>
<path d="M433.24,26.13 L433.93,26.23 L434.63,26.33 L435.33,26.44 L436.03,26.56 L436.73,26.68 L437.43,26.80 L438.12,26.93 L438.82,27.06 L439.52,27.20 L440.22,27.34 L440.92,27.49 L441.62,27.65 L442.32,27.81 L443.01,27.99 L443.71,28.17 L444.41,28.35 L445.11,28.52 L445.81,28.69 L446.51,28.86 L447.20,29.01 L447.90,29.16 L448.60,29.31 L449.30,29.46 L450.00,29.61 L450.70,29.76 L451.40,29.89 L452.09,30.02 L452.79,30.14 L453.49,30.25 L454.19,30.35 L454.89,30.43 L455.59,30.52 L456.29,30.60 L456.98,30.68 L457.68,30.75 L458.38,30.83 L459.08,30.90 L459.78,30.97 L460.48,31.03 L461.18,31.10 L461.87,31.16 L462.57,31.22 L463.27,31.27 L463.97,31.32 L464.67,31.37 L465.37,31.41 L466.06,31.45 L466.76,31.49 L467.46,31.53 L468.16,31.56 L468.86,31.59 L469.56,31.61 L470.26,31.64 L470.95,31.67 L471.65,31.70 L472.35,31.73 L473.05,31.75 L473.75,31.78 L474.45,31.79 L475.14,31.81 L475.84,31.82 L476.54,31.83 L477.24,31.83 L477.94,31.82 L478.64,31.82 L479.34,31.81 L480.03,31.80 L480.73,31.79 L481.43,31.79 L482.13,31.78 L482.83,31.77 L483.53,31.76 L484.23,31.76 L484.92,31.75 L485.62,31.74 L486.32,31.73 L487.02,31.73 L487.72,31.72 L488.42,31.71 L489.12,31.71 L489.81,31.70 L490.51,31.67 L491.21,31.65 L491.91,31.61 L492.61,31.56 L493.31,31.52 L494.00,31.46 L494.70,31.40 L495.40,31.34 L496.10,31.28 L496.80,31.21 L497.50,31.15 L498.20,31.08 L498.89,31.02 L499.59,30.95 L500.29,30.89 L500.99,30.84 L501.69,30.78 L502.39,30.72 L503.08,30.66 L503.78,30.60 L504.48,30.54 L505.18,30.48 L505.88,30.42 L506.58,30.35 L507.28,30.29 L507.97,30.23 L508.67,30.16 L509.37,30.10 L510.07,30.03 L510.77,29.96 L511.47,29.90 L512.17,29.83 L512.86,29.76 L513.56,29.69 L514.26,29.62 L514.96,29.55 L515.66,29.48 L516.36,29.41 L517.05,29.34 L517.75,29.27 L518.45,29.20 L519.15,29.13 L519.85,29.05 L520.55,28.98 L521.25,28.91 L521.94,28.83 L522.64,28.76 L523.34,28.68 L524.04,28.61 L524.74,28.53 L525.44,28.46 L526.14,28.38 L526.83,28.30 L527.53,28.22 L528.23,28.14 L528.93,28.06 L529.63,27.98 L530.33,27.89 L531.02,27.81 L531.72,27.73 L532.42,27.64 L533.12,27.56 L533.82,27.47 L534.52,27.38 L535.22,27.30 L535.91,27.21 L536.61,27.12 L537.31,27.03 L538.01,26.94 L538.71,26.85 L539.41,26.76 L540.11,26.67 L540.80,26.58 L541.50,26.49 L542.20,26.39 L542.90,26.30 L543.60,26.21 L544.30,26.11 L545.00,26.02 L545.00,39.31 L544.30,39.43 L543.60,39.54 L542.90,39.65 L542.20,39.76 L541.50,39.87 L540.80,39.98 L540.11,40.09 L539.41,40.20 L538.71,40.31 L538.01,40.41 L537.31,40.52 L536.61,40.62 L535.91,40.73 L535.22,40.83 L534.52,40.93 L533.82,41.03 L533.12,41.13 L532.42,41.23 L531.72,41.32 L531.02,41.42 L530.33,41.51 L529.63,41.61 L528.93,41.70 L528.23,41.79 L527.53,41.88 L526.83,41.97 L526.14,42.06 L525.44,42.14 L524.74,42.23 L524.04,42.31 L523.34,42.40 L522.64,42.48 L521.94,42.56 L521.25,42.64 L520.55,42.72 L519.85,42.80 L519.15,42.88 L518.45,42.96 L517.75,43.03 L517.05,43.11 L516.36,43.19 L515.66,43.26 L514.96,43.34 L514.26,43.41 L513.56,43.48 L512.86,43.56 L512.17,43.63 L511.47,43.70 L510.77,43.77 L510.07,43.84 L509.37,43.91 L508.67,43.97 L507.97,44.04 L507.28,44.11 L506.58,44.17 L505.88,44.24 L505.18,44.30 L504.48,44.36 L503.78,44.43 L503.08,44.49 L502.39,44.55 L501.69,44.61 L500.99,44.67 L500.29,44.73 L499.59,44.79 L498.89,44.85 L498.20,44.91 L497.50,44.98 L496.80,45.05 L496.10,45.11 L495.40,45.18 L494.70,45.24 L494.00,45.30 L493.31,45.35 L492.61,45.40 L491.91,45.44 L491.21,45.48 L490.51,45.51 L489.81,45.53 L489.12,45.54 L488.42,45.55 L487.72,45.55 L487.02,45.56 L486.32,45.56 L485.62,45.56 L484.92,45.57 L484.23,45.57 L483.53,45.57 L482.83,45.57 L482.13,45.56 L481.43,45.56 L480.73,45.56 L480.03,45.55 L479.34,45.55 L478.64,45.54 L477.94,45.53 L477.24,45.52 L476.54,45.50 L475.84,45.48 L475.14,45.45 L474.45,45.42 L473.75,45.38 L473.05,45.33 L472.35,45.29 L471.65,45.24 L470.95,45.19 L470.26,45.13 L469.56,45.08 L468.86,45.02 L468.16,44.97 L467.46,44.91 L466.76,44.85 L466.06,44.78 L465.37,44.71 L464.67,44.64 L463.97,44.56 L463.27,44.48 L462.57,44.39 L461.87,44.30 L461.18,44.21 L460.48,44.11 L459.78,44.01 L459.08,43.91 L458.38,43.80 L457.68,43.69 L456.98,43.58 L456.29,43.46 L455.59,43.34 L454.89,43.22 L454.19,43.10 L453.49,42.96 L452.79,42.82 L452.09,42.66 L451.40,42.49 L450.70,42.31 L450.00,42.12 L449.30,41.93 L448.60,41.74 L447.90,41.54 L447.20,41.35 L446.51,41.15 L445.81,40.95 L445.11,40.73 L444.41,40.51 L443.71,40.28 L443.01,40.06 L442.32,39.84 L441.62,39.63 L440.92,39.42 L440.22,39.23 L439.52,39.04 L438.82,38.86 L438.12,38.68 L437.43,38.50 L436.73,38.33 L436.03,38.16 L435.33,38.00 L434.63,37.84 L433.93,37.69 L433.24,37.54Z" fill="#35b779" fill-opacity="0.03" stroke="#35b779" stroke-opacity="0.45" stroke-width="0.6"/>
<path d="M433.24,32.23 L433.93,32.38 L434.63,32.53 L435.33,32.69 L436.03,32.85 L436.73,33.01 L437.43,33.18 L438.12,33.35 L438.82,33.53 L439.52,33.71 L440.22,33.89 L440.92,34.08 L441.62,34.29 L442.32,34.50 L443.01,34.72 L443.71,34.94 L444.41,35.16 L445.11,35.38 L445.81,35.59 L446.51,35.80 L447.20,36.00 L447.90,36.19 L448.60,36.38 L449.30,36.57 L450.00,36.76 L450.70,36.94 L451.40,37.12 L452.09,37.29 L452.79,37.45 L453.49,37.59 L454.19,37.73 L454.89,37.85 L455.59,37.97 L456.29,38.09 L456.98,38.20 L457.68,38.32 L458.38,38.43 L459.08,38.53 L459.78,38.64 L460.48,38.74 L461.18,38.83 L461.87,38.93 L462.57,39.01 L463.27,39.10 L463.97,39.18 L464.67,39.26 L465.37,39.34 L466.06,39.41 L466.76,39.48 L467.46,39.54 L468.16,39.60 L468.86,39.65 L469.56,39.71 L470.26,39.77 L470.95,39.82 L471.65,39.88 L472.35,39.93 L473.05,39.98 L473.75,40.02 L474.45,40.06 L475.14,40.10 L475.84,40.13 L476.54,40.16 L477.24,40.18 L477.94,40.20 L478.64,40.21 L479.34,40.22 L480.03,40.23 L480.73,40.24 L481.43,40.24 L482.13,40.25 L482.83,40.26 L483.53,40.27 L484.23,40.27 L484.92,40.28 L485.62,40.28 L486.32,40.28 L487.02,40.29 L487.72,40.29 L488.42,40.29 L489.12,40.29 L489.81,40.29 L490.51,40.27 L491.21,40.25 L491.91,40.22 L492.61,40.18 L493.31,40.14 L494.00,40.09 L494.70,40.04 L495.40,39.99 L496.10,39.93 L496.80,39.87 L497.50,39.81 L498.20,39.75 L498.89,39.69 L499.59,39.64 L500.29,39.59 L500.99,39.53 L501.69,39.48 L502.39,39.43 L503.08,39.38 L503.78,39.32 L504.48,39.27 L505.18,39.21 L505.88,39.15 L506.58,39.10 L507.28,39.04 L507.97,38.98 L508.67,38.92 L509.37,38.86 L510.07,38.80 L510.77,38.73 L511.47,38.67 L512.17,38.61 L512.86,38.54 L513.56,38.48 L514.26,38.41 L514.96,38.35 L515.66,38.28 L516.36,38.21 L517.05,38.14 L517.75,38.07 L518.45,38.00 L519.15,37.93 L519.85,37.86 L520.55,37.79 L521.25,37.72 L521.94,37.64 L522.64,37.57 L523.34,37.49 L524.04,37.42 L524.74,37.34 L525.44,37.27 L526.14,37.19 L526.83,37.11 L527.53,37.03 L528.23,36.94 L528.93,36.86 L529.63,36.78 L530.33,36.69 L531.02,36.60 L531.72,36.52 L532.42,36.43 L533.12,36.34 L533.82,36.25 L534.52,36.16 L535.22,36.07 L535.91,35.97 L536.61,35.88 L537.31,35.78 L538.01,35.69 L538.71,35.59 L539.41,35.49 L540.11,35.39 L540.80,35.29 L541.50,35.19 L542.20,35.09 L542.90,34.99 L543.60,34.89 L544.30,34.78 L545.00,34.68" fill="none" stroke="#440154" stroke-width="1.65"/>
<path d="M433.24,32.14 L433.93,32.28 L434.63,32.42 L435.33,32.56 L436.03,32.71 L436.73,32.87 L437.43,33.02 L438.12,33.19 L438.82,33.35 L439.52,33.52 L440.22,33.70 L440.92,33.88 L441.62,34.07 L442.32,34.27 L443.01,34.48 L443.71,34.69 L444.41,34.90 L445.11,35.11 L445.81,35.32 L446.51,35.51 L447.20,35.70 L447.90,35.88 L448.60,36.06 L449.30,36.24 L450.00,36.42 L450.70,36.60 L451.40,36.76 L452.09,36.92 L452.79,37.07 L453.49,37.21 L454.19,37.33 L454.89,37.45 L455.59,37.56 L456.29,37.67 L456.98,37.78 L457.68,37.88 L458.38,37.98 L459.08,38.08 L459.78,38.17 L460.48,38.26 L461.18,38.35 L461.87,38.44 L462.57,38.52 L463.27,38.60 L463.97,38.67 L464.67,38.74 L465.37,38.81 L466.06,38.87 L466.76,38.93 L467.46,38.99 L468.16,39.04 L468.86,39.09 L469.56,39.14 L470.26,39.19 L470.95,39.23 L471.65,39.28 L472.35,39.33 L473.05,39.37 L473.75,39.41 L474.45,39.44 L475.14,39.47 L475.84,39.50 L476.54,39.52 L477.24,39.54 L477.94,39.55 L478.64,39.55 L479.34,39.56 L480.03,39.56 L480.73,39.56 L481.43,39.57 L482.13,39.57 L482.83,39.57 L483.53,39.57 L484.23,39.57 L484.92,39.58 L485.62,39.57 L486.32,39.57 L487.02,39.57 L487.72,39.57 L488.42,39.57 L489.12,39.57 L489.81,39.56 L490.51,39.54 L491.21,39.52 L491.91,39.48 L492.61,39.44 L493.31,39.40 L494.00,39.34 L494.70,39.29 L495.40,39.23 L496.10,39.17 L496.80,39.11 L497.50,39.05 L498.20,38.98 L498.89,38.92 L499.59,38.86 L500.29,38.81 L500.99,38.75 L501.69,38.70 L502.39,38.64 L503.08,38.58 L503.78,38.53 L504.48,38.47 L505.18,38.41 L505.88,38.35 L506.58,38.29 L507.28,38.23 L507.97,38.16 L508.67,38.10 L509.37,38.04 L510.07,37.97 L510.77,37.91 L511.47,37.84 L512.17,37.78 L512.86,37.71 L513.56,37.64 L514.26,37.57 L514.96,37.50 L515.66,37.43 L516.36,37.36 L517.05,37.29 L517.75,37.22 L518.45,37.15 L519.15,37.08 L519.85,37.00 L520.55,36.93 L521.25,36.85 L521.94,36.78 L522.64,36.70 L523.34,36.62 L524.04,36.55 L524.74,36.47 L525.44,36.39 L526.14,36.31 L526.83,36.23 L527.53,36.14 L528.23,36.06 L528.93,35.97 L529.63,35.89 L530.33,35.80 L531.02,35.71 L531.72,35.63 L532.42,35.54 L533.12,35.44 L533.82,35.35 L534.52,35.26 L535.22,35.17 L535.91,35.07 L536.61,34.98 L537.31,34.88 L538.01,34.78 L538.71,34.69 L539.41,34.59 L540.11,34.49 L540.80,34.39 L541.50,34.29 L542.20,34.19 L542.90,34.08 L543.60,33.98 L544.30,33.88 L545.00,33.77" fill="none" stroke="#31688e" stroke-width="1.65" stroke-dasharray="9.14,2.29,1.43,2.29"/>
<path d="M433.24,32.05 L433.93,32.18 L434.63,32.31 L435.33,32.44 L436.03,32.58 L436.73,32.72 L437.43,32.87 L438.12,33.02 L438.82,33.18 L439.52,33.34 L440.22,33.50 L440.92,33.67 L441.62,33.85 L442.32,34.05 L443.01,34.24 L443.71,34.44 L444.41,34.64 L445.11,34.84 L445.81,35.04 L446.51,35.23 L447.20,35.40 L447.90,35.57 L448.60,35.75 L449.30,35.92 L450.00,36.09 L450.70,36.25 L451.40,36.41 L452.09,36.56 L452.79,36.70 L453.49,36.83 L454.19,36.94 L454.89,37.05 L455.59,37.15 L456.29,37.25 L456.98,37.35 L457.68,37.44 L458.38,37.53 L459.08,37.62 L459.78,37.71 L460.48,37.79 L461.18,37.87 L461.87,37.95 L462.57,38.02 L463.27,38.09 L463.97,38.16 L464.67,38.22 L465.37,38.28 L466.06,38.34 L466.76,38.39 L467.46,38.44 L468.16,38.48 L468.86,38.52 L469.56,38.56 L470.26,38.61 L470.95,38.65 L471.65,38.69 L472.35,38.73 L473.05,38.76 L473.75,38.79 L474.45,38.82 L475.14,38.85 L475.84,38.87 L476.54,38.88 L477.24,38.89 L477.94,38.90 L478.64,38.90 L479.34,38.90 L480.03,38.89 L480.73,38.89 L481.43,38.89 L482.13,38.89 L482.83,38.89 L483.53,38.88 L484.23,38.88 L484.92,38.87 L485.62,38.87 L486.32,38.87 L487.02,38.86 L487.72,38.85 L488.42,38.85 L489.12,38.84 L489.81,38.83 L490.51,38.81 L491.21,38.78 L491.91,38.74 L492.61,38.70 L493.31,38.65 L494.00,38.60 L494.70,38.54 L495.40,38.48 L496.10,38.41 L496.80,38.35 L497.50,38.28 L498.20,38.21 L498.89,38.15 L499.59,38.09 L500.29,38.03 L500.99,37.97 L501.69,37.91 L502.39,37.85 L503.08,37.79 L503.78,37.73 L504.48,37.67 L505.18,37.61 L505.88,37.54 L506.58,37.48 L507.28,37.41 L507.97,37.35 L508.67,37.28 L509.37,37.22 L510.07,37.15 L510.77,37.08 L511.47,37.01 L512.17,36.94 L512.86,36.87 L513.56,36.80 L514.26,36.73 L514.96,36.66 L515.66,36.59 L516.36,36.52 L517.05,36.44 L517.75,36.37 L518.45,36.29 L519.15,36.22 L519.85,36.14 L520.55,36.07 L521.25,35.99 L521.94,35.91 L522.64,35.83 L523.34,35.75 L524.04,35.67 L524.74,35.59 L525.44,35.51 L526.14,35.43 L526.83,35.35 L527.53,35.26 L528.23,35.18 L528.93,35.09 L529.63,35.00 L530.33,34.91 L531.02,34.82 L531.72,34.73 L532.42,34.64 L533.12,34.55 L533.82,34.46 L534.52,34.36 L535.22,34.27 L535.91,34.17 L536.61,34.08 L537.31,33.98 L538.01,33.88 L538.71,33.78 L539.41,33.69 L540.11,33.59 L540.80,33.48 L541.50,33.38 L542.20,33.28 L542.90,33.18 L543.60,33.07 L544.30,32.97 L545.00,32.87" fill="none" stroke="#35b779" stroke-width="1.95" stroke-dasharray="1.75,2.04"/>
</g>
<rect x="493.65" y="62.30" width="46.8" height="32.0" rx="1.7" fill="#fff" fill-opacity="0.8" stroke="#cccccc" stroke-opacity="0.9" stroke-width="1.1"/>
<line x1="496.95" y1="69.70" x2="509.85" y2="69.70" stroke="#440154" stroke-width="1.65"/>
<text x="516.55" y="72.70" font-size="8.6">2 h</text>
<line x1="496.95" y1="78.05" x2="509.85" y2="78.05" stroke="#31688e" stroke-width="1.65" stroke-dasharray="9.14,2.29,1.43,2.29"/>
<text x="516.55" y="81.05" font-size="8.6">18 h</text>
<line x1="496.95" y1="86.40" x2="509.85" y2="86.40" stroke="#35b779" stroke-width="1.95" stroke-dasharray="1.75,2.04"/>
<text x="516.55" y="89.40" font-size="8.6">bake</text>
<line x1="426.25" y1="98.3" x2="426.25" y2="103.30" stroke="#000" stroke-width="1.2"/>
<line x1="454.19" y1="98.3" x2="454.19" y2="103.30" stroke="#000" stroke-width="1.2"/>
<line x1="482.13" y1="98.3" x2="482.13" y2="103.30" stroke="#000" stroke-width="1.2"/>
<line x1="510.07" y1="98.3" x2="510.07" y2="103.30" stroke="#000" stroke-width="1.2"/>
<line x1="538.01" y1="98.3" x2="538.01" y2="103.30" stroke="#000" stroke-width="1.2"/>
<line x1="414.35" y1="31.87" x2="419.35" y2="31.87" stroke="#000" stroke-width="1.2"/>
<text x="409.35" y="35.47" font-size="8.6" text-anchor="end">0.0</text>
<line x1="414.35" y1="49.98" x2="419.35" y2="49.98" stroke="#000" stroke-width="1.2"/>
<text x="409.35" y="53.58" font-size="8.6" text-anchor="end">−0.1</text>
<line x1="414.35" y1="68.09" x2="419.35" y2="68.09" stroke="#000" stroke-width="1.2"/>
<text x="409.35" y="71.69" font-size="8.6" text-anchor="end">−0.2</text>
<line x1="414.35" y1="86.20" x2="419.35" y2="86.20" stroke="#000" stroke-width="1.2"/>
<text x="409.35" y="89.80" font-size="8.6" text-anchor="end">−0.3</text>
<rect x="419.35" y="19.3" width="125.7" height="79.0" fill="none" stroke="#000" stroke-width="1.3"/>
<line x1="440.22" y1="114.8" x2="440.22" y2="194.2" stroke="#7a7a7a" stroke-width="0.9" stroke-dasharray="0.9,1.25"/>
<line x1="482.13" y1="114.8" x2="482.13" y2="194.2" stroke="#7a7a7a" stroke-width="0.9" stroke-dasharray="0.9,1.25"/>
<line x1="524.04" y1="114.8" x2="524.04" y2="194.2" stroke="#7a7a7a" stroke-width="0.9" stroke-dasharray="0.9,1.25"/>
<g clip-path="url(#c21)">
<path d="M433.24,150.39 L433.93,153.92 L434.63,156.79 L435.33,159.19 L436.03,161.22 L436.73,162.98 L437.43,164.52 L438.12,165.89 L438.82,167.11 L439.52,168.22 L440.22,169.23 L440.92,170.15 L441.62,171.01 L442.32,171.80 L443.01,172.53 L443.71,173.22 L444.41,173.86 L445.11,174.47 L445.81,175.03 L446.51,175.57 L447.20,176.08 L447.90,176.56 L448.60,177.01 L449.30,177.44 L450.00,177.86 L450.70,178.25 L451.40,178.62 L452.09,178.98 L452.79,179.33 L453.49,179.65 L454.19,179.97 L454.89,180.27 L455.59,180.56 L456.29,180.85 L456.98,181.12 L457.68,181.38 L458.38,181.63 L459.08,181.87 L459.78,182.10 L460.48,182.33 L461.18,182.55 L461.87,182.76 L462.57,182.97 L463.27,183.16 L463.97,183.36 L464.67,183.54 L465.37,183.73 L466.06,183.90 L466.76,184.08 L467.46,184.24 L468.16,184.40 L468.86,184.56 L469.56,184.72 L470.26,184.87 L470.95,185.01 L471.65,185.16 L472.35,185.30 L473.05,185.43 L473.75,185.56 L474.45,185.69 L475.14,185.82 L475.84,185.94 L476.54,186.06 L477.24,186.18 L477.94,186.30 L478.64,186.41 L479.34,186.52 L480.03,186.63 L480.73,186.74 L481.43,186.84 L482.13,186.94 L482.83,187.04 L483.53,187.14 L484.23,187.23 L484.92,187.33 L485.62,187.42 L486.32,187.51 L487.02,187.60 L487.72,187.69 L488.42,187.77 L489.12,187.86 L489.81,187.94 L490.51,188.02 L491.21,188.10 L491.91,188.18 L492.61,188.25 L493.31,188.33 L494.00,188.40 L494.70,188.48 L495.40,188.55 L496.10,188.62 L496.80,188.69 L497.50,188.76 L498.20,188.82 L498.89,188.89 L499.59,188.96 L500.29,189.02 L500.99,189.08 L501.69,189.15 L502.39,189.21 L503.08,189.27 L503.78,189.33 L504.48,189.39 L505.18,189.44 L505.88,189.50 L506.58,189.56 L507.28,189.61 L507.97,189.67 L508.67,189.72 L509.37,189.78 L510.07,189.83 L510.77,189.88 L511.47,189.93 L512.17,189.98 L512.86,190.03 L513.56,190.08 L514.26,190.13 L514.96,190.18 L515.66,190.22 L516.36,190.27 L517.05,190.32 L517.75,190.36 L518.45,190.41 L519.15,190.45 L519.85,190.50 L520.55,190.54 L521.25,190.58 L521.94,190.62 L522.64,190.67 L523.34,190.71 L524.04,190.75 L524.74,190.79 L525.44,190.83 L526.14,190.87 L526.83,190.91 L527.53,190.95 L528.23,190.98 L528.93,191.02 L529.63,191.06 L530.33,191.10 L531.02,191.13 L531.72,191.17 L532.42,191.21 L533.12,191.24 L533.82,191.28 L534.52,191.31 L535.22,191.35 L535.91,191.38 L536.61,191.41 L537.31,191.45 L538.01,191.48 L538.71,191.51 L539.41,191.54 L540.11,191.58 L540.80,191.61 L541.50,191.64 L542.20,191.67 L542.90,191.70 L543.60,191.73 L544.30,191.76 L545.00,191.79" fill="none" stroke="#440154" stroke-width="1.65"/>
<path d="M433.24,123.86 L433.93,130.50 L434.63,135.86 L435.33,140.29 L436.03,144.03 L436.73,147.23 L437.43,150.02 L438.12,152.49 L438.82,154.68 L439.52,156.64 L440.22,158.42 L440.92,160.03 L441.62,161.51 L442.32,162.86 L443.01,164.11 L443.71,165.26 L444.41,166.33 L445.11,167.33 L445.81,168.26 L446.51,169.13 L447.20,169.95 L447.90,170.71 L448.60,171.44 L449.30,172.12 L450.00,172.76 L450.70,173.37 L451.40,173.95 L452.09,174.50 L452.79,175.02 L453.49,175.52 L454.19,175.99 L454.89,176.45 L455.59,176.88 L456.29,177.29 L456.98,177.69 L457.68,178.07 L458.38,178.43 L459.08,178.78 L459.78,179.12 L460.48,179.44 L461.18,179.75 L461.87,180.05 L462.57,180.34 L463.27,180.62 L463.97,180.89 L464.67,181.15 L465.37,181.40 L466.06,181.65 L466.76,181.88 L467.46,182.11 L468.16,182.33 L468.86,182.55 L469.56,182.75 L470.26,182.96 L470.95,183.15 L471.65,183.34 L472.35,183.53 L473.05,183.71 L473.75,183.88 L474.45,184.05 L475.14,184.22 L475.84,184.38 L476.54,184.54 L477.24,184.69 L477.94,184.84 L478.64,184.98 L479.34,185.13 L480.03,185.26 L480.73,185.40 L481.43,185.53 L482.13,185.66 L482.83,185.79 L483.53,185.91 L484.23,186.03 L484.92,186.15 L485.62,186.26 L486.32,186.37 L487.02,186.49 L487.72,186.59 L488.42,186.70 L489.12,186.80 L489.81,186.90 L490.51,187.00 L491.21,187.10 L491.91,187.20 L492.61,187.29 L493.31,187.38 L494.00,187.47 L494.70,187.56 L495.40,187.64 L496.10,187.73 L496.80,187.81 L497.50,187.90 L498.20,187.98 L498.89,188.05 L499.59,188.13 L500.29,188.21 L500.99,188.28 L501.69,188.36 L502.39,188.43 L503.08,188.50 L503.78,188.57 L504.48,188.64 L505.18,188.71 L505.88,188.77 L506.58,188.84 L507.28,188.90 L507.97,188.97 L508.67,189.03 L509.37,189.09 L510.07,189.15 L510.77,189.21 L511.47,189.27 L512.17,189.33 L512.86,189.38 L513.56,189.44 L514.26,189.49 L514.96,189.55 L515.66,189.60 L516.36,189.65 L517.05,189.71 L517.75,189.76 L518.45,189.81 L519.15,189.86 L519.85,189.91 L520.55,189.95 L521.25,190.00 L521.94,190.05 L522.64,190.10 L523.34,190.14 L524.04,190.19 L524.74,190.23 L525.44,190.28 L526.14,190.32 L526.83,190.36 L527.53,190.41 L528.23,190.45 L528.93,190.49 L529.63,190.53 L530.33,190.57 L531.02,190.61 L531.72,190.65 L532.42,190.69 L533.12,190.73 L533.82,190.76 L534.52,190.80 L535.22,190.84 L535.91,190.87 L536.61,190.91 L537.31,190.95 L538.01,190.98 L538.71,191.02 L539.41,191.05 L540.11,191.09 L540.80,191.12 L541.50,191.15 L542.20,191.19 L542.90,191.22 L543.60,191.25 L544.30,191.28 L545.00,191.31" fill="none" stroke="#31688e" stroke-width="1.65" stroke-dasharray="9.14,2.29,1.43,2.29"/>
<path d="M433.24,107.15 L433.93,115.05 L434.63,121.65 L435.33,127.23 L436.03,132.03 L436.73,136.18 L437.43,139.83 L438.12,143.04 L438.82,145.90 L439.52,148.46 L440.22,150.77 L440.92,152.86 L441.62,154.76 L442.32,156.50 L443.01,158.09 L443.71,159.56 L444.41,160.91 L445.11,162.17 L445.81,163.33 L446.51,164.42 L447.20,165.43 L447.90,166.38 L448.60,167.27 L449.30,168.11 L450.00,168.89 L450.70,169.64 L451.40,170.34 L452.09,171.00 L452.79,171.63 L453.49,172.23 L454.19,172.80 L454.89,173.34 L455.59,173.85 L456.29,174.34 L456.98,174.81 L457.68,175.26 L458.38,175.69 L459.08,176.10 L459.78,176.49 L460.48,176.87 L461.18,177.23 L461.87,177.58 L462.57,177.92 L463.27,178.24 L463.97,178.55 L464.67,178.85 L465.37,179.14 L466.06,179.42 L466.76,179.69 L467.46,179.95 L468.16,180.20 L468.86,180.44 L469.56,180.68 L470.26,180.91 L470.95,181.13 L471.65,181.34 L472.35,181.55 L473.05,181.75 L473.75,181.95 L474.45,182.14 L475.14,182.32 L475.84,182.50 L476.54,182.68 L477.24,182.85 L477.94,183.01 L478.64,183.17 L479.34,183.33 L480.03,183.48 L480.73,183.63 L481.43,183.78 L482.13,183.92 L482.83,184.06 L483.53,184.19 L484.23,184.32 L484.92,184.45 L485.62,184.58 L486.32,184.70 L487.02,184.82 L487.72,184.94 L488.42,185.05 L489.12,185.16 L489.81,185.27 L490.51,185.38 L491.21,185.48 L491.91,185.59 L492.61,185.69 L493.31,185.79 L494.00,185.88 L494.70,185.98 L495.40,186.07 L496.10,186.16 L496.80,186.25 L497.50,186.34 L498.20,186.42 L498.89,186.50 L499.59,186.59 L500.29,186.67 L500.99,186.75 L501.69,186.82 L502.39,186.90 L503.08,186.98 L503.78,187.05 L504.48,187.12 L505.18,187.19 L505.88,187.26 L506.58,187.33 L507.28,187.40 L507.97,187.46 L508.67,187.53 L509.37,187.59 L510.07,187.66 L510.77,187.72 L511.47,187.78 L512.17,187.84 L512.86,187.90 L513.56,187.96 L514.26,188.01 L514.96,188.07 L515.66,188.13 L516.36,188.18 L517.05,188.23 L517.75,188.29 L518.45,188.34 L519.15,188.39 L519.85,188.44 L520.55,188.49 L521.25,188.54 L521.94,188.59 L522.64,188.64 L523.34,188.68 L524.04,188.73 L524.74,188.77 L525.44,188.82 L526.14,188.86 L526.83,188.91 L527.53,188.95 L528.23,188.99 L528.93,189.04 L529.63,189.08 L530.33,189.12 L531.02,189.16 L531.72,189.20 L532.42,189.24 L533.12,189.28 L533.82,189.31 L534.52,189.35 L535.22,189.39 L535.91,189.43 L536.61,189.46 L537.31,189.50 L538.01,189.53 L538.71,189.57 L539.41,189.60 L540.11,189.64 L540.80,189.67 L541.50,189.71 L542.20,189.74 L542.90,189.77 L543.60,189.80 L544.30,189.84 L545.00,189.87" fill="none" stroke="#35b779" stroke-width="1.95" stroke-dasharray="1.75,2.04"/>
</g>
<rect x="493.65" y="118.80" width="46.8" height="32.0" rx="1.7" fill="#fff" fill-opacity="0.8" stroke="#cccccc" stroke-opacity="0.9" stroke-width="1.1"/>
<line x1="496.95" y1="126.20" x2="509.85" y2="126.20" stroke="#440154" stroke-width="1.65"/>
<text x="516.55" y="129.20" font-size="8.6">2 h</text>
<line x1="496.95" y1="134.55" x2="509.85" y2="134.55" stroke="#31688e" stroke-width="1.65" stroke-dasharray="9.14,2.29,1.43,2.29"/>
<text x="516.55" y="137.55" font-size="8.6">18 h</text>
<line x1="496.95" y1="142.90" x2="509.85" y2="142.90" stroke="#35b779" stroke-width="1.95" stroke-dasharray="1.75,2.04"/>
<text x="516.55" y="145.90" font-size="8.6">bake</text>
<line x1="426.25" y1="194.2" x2="426.25" y2="199.20" stroke="#000" stroke-width="1.2"/>
<text x="426.25" y="211.40" font-size="8.6" text-anchor="middle">0.0</text>
<line x1="454.19" y1="194.2" x2="454.19" y2="199.20" stroke="#000" stroke-width="1.2"/>
<text x="454.19" y="211.40" font-size="8.6" text-anchor="middle">0.2</text>
<line x1="482.13" y1="194.2" x2="482.13" y2="199.20" stroke="#000" stroke-width="1.2"/>
<text x="482.13" y="211.40" font-size="8.6" text-anchor="middle">0.4</text>
<line x1="510.07" y1="194.2" x2="510.07" y2="199.20" stroke="#000" stroke-width="1.2"/>
<text x="510.07" y="211.40" font-size="8.6" text-anchor="middle">0.6</text>
<line x1="538.01" y1="194.2" x2="538.01" y2="199.20" stroke="#000" stroke-width="1.2"/>
<text x="538.01" y="211.40" font-size="8.6" text-anchor="middle">0.8</text>
<line x1="414.35" y1="172.15" x2="419.35" y2="172.15" stroke="#000" stroke-width="1.2"/>
<text x="409.35" y="175.75" font-size="8.6" text-anchor="end">0.2</text>
<line x1="414.35" y1="147.75" x2="419.35" y2="147.75" stroke="#000" stroke-width="1.2"/>
<text x="409.35" y="151.35" font-size="8.6" text-anchor="end">0.4</text>
<line x1="414.35" y1="123.35" x2="419.35" y2="123.35" stroke="#000" stroke-width="1.2"/>
<text x="409.35" y="126.95" font-size="8.6" text-anchor="end">0.6</text>
<rect x="419.35" y="114.8" width="125.7" height="79.39999999999999" fill="none" stroke="#000" stroke-width="1.3"/>
</svg>
</body></html>
